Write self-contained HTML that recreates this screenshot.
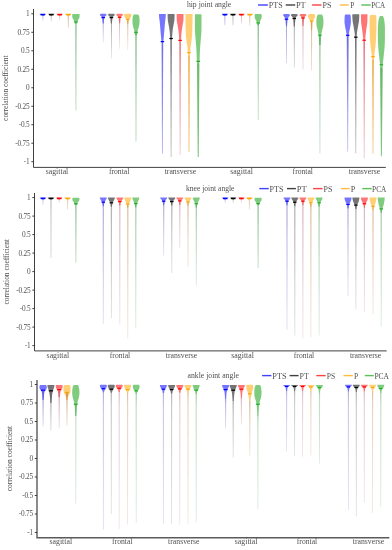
<!DOCTYPE html>
<html><head><meta charset="utf-8"><title>joint angle correlation</title>
<style>
html,body{margin:0;padding:0;background:#fff;}
body{width:392px;height:550px;overflow:hidden;}
svg{display:block;}
text{font-family:"Liberation Serif", "DejaVu Serif", serif;fill:#505050;}
</style></head><body>
<svg width="392" height="550" viewBox="0 0 392 550">
<defs><linearGradient id="g0" x1="0" y1="0" x2="0" y2="1"><stop offset="0" stop-color="#5e5ec0" stop-opacity="0.33"/><stop offset="1" stop-color="#5e5ec0" stop-opacity="0.22"/></linearGradient><linearGradient id="g1" x1="0" y1="0" x2="0" y2="1"><stop offset="0" stop-color="#636363" stop-opacity="0.33"/><stop offset="1" stop-color="#636363" stop-opacity="0.22"/></linearGradient><linearGradient id="g2" x1="0" y1="0" x2="0" y2="1"><stop offset="0" stop-color="#b8707a" stop-opacity="0.33"/><stop offset="1" stop-color="#b8707a" stop-opacity="0.22"/></linearGradient><linearGradient id="g3" x1="0" y1="0" x2="0" y2="1"><stop offset="0" stop-color="#b88040" stop-opacity="0.5"/><stop offset="1" stop-color="#b88040" stop-opacity="0.4"/></linearGradient><linearGradient id="g4" x1="0" y1="0" x2="0" y2="1"><stop offset="0" stop-color="#4a9a55" stop-opacity="0.45"/><stop offset="1" stop-color="#4a9a55" stop-opacity="0.25"/></linearGradient><linearGradient id="g5" x1="0" y1="0" x2="0" y2="1"><stop offset="0" stop-color="#5e5ec0" stop-opacity="0.65"/><stop offset="1" stop-color="#5e5ec0" stop-opacity="0.2"/></linearGradient><linearGradient id="g6" x1="0" y1="0" x2="0" y2="1"><stop offset="0" stop-color="#636363" stop-opacity="0.65"/><stop offset="1" stop-color="#636363" stop-opacity="0.2"/></linearGradient><linearGradient id="g7" x1="0" y1="0" x2="0" y2="1"><stop offset="0" stop-color="#b8707a" stop-opacity="0.65"/><stop offset="1" stop-color="#b8707a" stop-opacity="0.2"/></linearGradient><linearGradient id="g8" x1="0" y1="0" x2="0" y2="1"><stop offset="0" stop-color="#b88040" stop-opacity="0.65"/><stop offset="1" stop-color="#b88040" stop-opacity="0.2"/></linearGradient><linearGradient id="g9" x1="0" y1="0" x2="0" y2="1"><stop offset="0" stop-color="#4a9a55" stop-opacity="0.6"/><stop offset="1" stop-color="#4a9a55" stop-opacity="0.3"/></linearGradient><linearGradient id="g10" x1="0" y1="0" x2="0" y2="1"><stop offset="0" stop-color="#4848e0" stop-opacity="0.8"/><stop offset="1" stop-color="#4848e0" stop-opacity="0.45"/></linearGradient><linearGradient id="g11" x1="0" y1="0" x2="0" y2="1"><stop offset="0" stop-color="#5a5a5a" stop-opacity="0.8"/><stop offset="1" stop-color="#5a5a5a" stop-opacity="0.4"/></linearGradient><linearGradient id="g12" x1="0" y1="0" x2="0" y2="1"><stop offset="0" stop-color="#d85060" stop-opacity="0.75"/><stop offset="1" stop-color="#d85060" stop-opacity="0.35"/></linearGradient><linearGradient id="g13" x1="0" y1="0" x2="0" y2="1"><stop offset="0" stop-color="#eea030" stop-opacity="0.7"/><stop offset="1" stop-color="#eea030" stop-opacity="0.65"/></linearGradient><linearGradient id="g14" x1="0" y1="0" x2="0" y2="1"><stop offset="0" stop-color="#30a030" stop-opacity="0.7"/><stop offset="1" stop-color="#30a030" stop-opacity="0.65"/></linearGradient><linearGradient id="g15" x1="0" y1="0" x2="0" y2="1"><stop offset="0" stop-color="#5e5ec0" stop-opacity="0.55"/><stop offset="1" stop-color="#5e5ec0" stop-opacity="0.4"/></linearGradient><linearGradient id="g16" x1="0" y1="0" x2="0" y2="1"><stop offset="0" stop-color="#636363" stop-opacity="0.55"/><stop offset="1" stop-color="#636363" stop-opacity="0.4"/></linearGradient><linearGradient id="g17" x1="0" y1="0" x2="0" y2="1"><stop offset="0" stop-color="#b8707a" stop-opacity="0.5"/><stop offset="1" stop-color="#b8707a" stop-opacity="0.4"/></linearGradient><linearGradient id="g18" x1="0" y1="0" x2="0" y2="1"><stop offset="0" stop-color="#b88040" stop-opacity="0.55"/><stop offset="1" stop-color="#b88040" stop-opacity="0.4"/></linearGradient><linearGradient id="g19" x1="0" y1="0" x2="0" y2="1"><stop offset="0" stop-color="#4a9a55" stop-opacity="0.8"/><stop offset="1" stop-color="#4a9a55" stop-opacity="0.4"/></linearGradient><linearGradient id="g20" x1="0" y1="0" x2="0" y2="1"><stop offset="0" stop-color="#5e5ec0" stop-opacity="0.6"/><stop offset="1" stop-color="#5e5ec0" stop-opacity="0.3"/></linearGradient><linearGradient id="g21" x1="0" y1="0" x2="0" y2="1"><stop offset="0" stop-color="#636363" stop-opacity="0.6"/><stop offset="1" stop-color="#636363" stop-opacity="0.3"/></linearGradient><linearGradient id="g22" x1="0" y1="0" x2="0" y2="1"><stop offset="0" stop-color="#b8707a" stop-opacity="0.6"/><stop offset="1" stop-color="#b8707a" stop-opacity="0.3"/></linearGradient><linearGradient id="g23" x1="0" y1="0" x2="0" y2="1"><stop offset="0" stop-color="#b88040" stop-opacity="0.6"/><stop offset="1" stop-color="#b88040" stop-opacity="0.3"/></linearGradient><linearGradient id="g24" x1="0" y1="0" x2="0" y2="1"><stop offset="0" stop-color="#4a9a55" stop-opacity="0.5"/><stop offset="1" stop-color="#4a9a55" stop-opacity="0.25"/></linearGradient><linearGradient id="g25" x1="0" y1="0" x2="0" y2="1"><stop offset="0" stop-color="#4848e0" stop-opacity="0.8"/><stop offset="1" stop-color="#4848e0" stop-opacity="0.35"/></linearGradient><linearGradient id="g26" x1="0" y1="0" x2="0" y2="1"><stop offset="0" stop-color="#5a5a5a" stop-opacity="0.85"/><stop offset="1" stop-color="#5a5a5a" stop-opacity="0.4"/></linearGradient><linearGradient id="g27" x1="0" y1="0" x2="0" y2="1"><stop offset="0" stop-color="#d85060" stop-opacity="0.75"/><stop offset="1" stop-color="#d85060" stop-opacity="0.35"/></linearGradient><linearGradient id="g28" x1="0" y1="0" x2="0" y2="1"><stop offset="0" stop-color="#eea030" stop-opacity="0.75"/><stop offset="1" stop-color="#eea030" stop-opacity="0.55"/></linearGradient><linearGradient id="g29" x1="0" y1="0" x2="0" y2="1"><stop offset="0" stop-color="#30a030" stop-opacity="0.75"/><stop offset="1" stop-color="#30a030" stop-opacity="0.6"/></linearGradient><linearGradient id="g30" x1="0" y1="0" x2="0" y2="1"><stop offset="0" stop-color="#5e5ec0" stop-opacity="0.33"/><stop offset="1" stop-color="#5e5ec0" stop-opacity="0.22"/></linearGradient><linearGradient id="g31" x1="0" y1="0" x2="0" y2="1"><stop offset="0" stop-color="#636363" stop-opacity="0.35"/><stop offset="1" stop-color="#636363" stop-opacity="0.25"/></linearGradient><linearGradient id="g32" x1="0" y1="0" x2="0" y2="1"><stop offset="0" stop-color="#b8707a" stop-opacity="0.33"/><stop offset="1" stop-color="#b8707a" stop-opacity="0.22"/></linearGradient><linearGradient id="g33" x1="0" y1="0" x2="0" y2="1"><stop offset="0" stop-color="#b88040" stop-opacity="0.4"/><stop offset="1" stop-color="#b88040" stop-opacity="0.3"/></linearGradient><linearGradient id="g34" x1="0" y1="0" x2="0" y2="1"><stop offset="0" stop-color="#4a9a55" stop-opacity="0.6"/><stop offset="1" stop-color="#4a9a55" stop-opacity="0.35"/></linearGradient><linearGradient id="g35" x1="0" y1="0" x2="0" y2="1"><stop offset="0" stop-color="#5e5ec0" stop-opacity="0.5"/><stop offset="1" stop-color="#5e5ec0" stop-opacity="0.2"/></linearGradient><linearGradient id="g36" x1="0" y1="0" x2="0" y2="1"><stop offset="0" stop-color="#636363" stop-opacity="0.5"/><stop offset="1" stop-color="#636363" stop-opacity="0.2"/></linearGradient><linearGradient id="g37" x1="0" y1="0" x2="0" y2="1"><stop offset="0" stop-color="#b8707a" stop-opacity="0.5"/><stop offset="1" stop-color="#b8707a" stop-opacity="0.2"/></linearGradient><linearGradient id="g38" x1="0" y1="0" x2="0" y2="1"><stop offset="0" stop-color="#b88040" stop-opacity="0.5"/><stop offset="1" stop-color="#b88040" stop-opacity="0.2"/></linearGradient><linearGradient id="g39" x1="0" y1="0" x2="0" y2="1"><stop offset="0" stop-color="#4a9a55" stop-opacity="0.5"/><stop offset="1" stop-color="#4a9a55" stop-opacity="0.2"/></linearGradient><linearGradient id="g40" x1="0" y1="0" x2="0" y2="1"><stop offset="0" stop-color="#5e5ec0" stop-opacity="0.5"/><stop offset="1" stop-color="#5e5ec0" stop-opacity="0.2"/></linearGradient><linearGradient id="g41" x1="0" y1="0" x2="0" y2="1"><stop offset="0" stop-color="#636363" stop-opacity="0.5"/><stop offset="1" stop-color="#636363" stop-opacity="0.2"/></linearGradient><linearGradient id="g42" x1="0" y1="0" x2="0" y2="1"><stop offset="0" stop-color="#b8707a" stop-opacity="0.5"/><stop offset="1" stop-color="#b8707a" stop-opacity="0.2"/></linearGradient><linearGradient id="g43" x1="0" y1="0" x2="0" y2="1"><stop offset="0" stop-color="#b88040" stop-opacity="0.5"/><stop offset="1" stop-color="#b88040" stop-opacity="0.2"/></linearGradient><linearGradient id="g44" x1="0" y1="0" x2="0" y2="1"><stop offset="0" stop-color="#4a9a55" stop-opacity="0.5"/><stop offset="1" stop-color="#4a9a55" stop-opacity="0.2"/></linearGradient><linearGradient id="g45" x1="0" y1="0" x2="0" y2="1"><stop offset="0" stop-color="#5e5ec0" stop-opacity="0.33"/><stop offset="1" stop-color="#5e5ec0" stop-opacity="0.22"/></linearGradient><linearGradient id="g46" x1="0" y1="0" x2="0" y2="1"><stop offset="0" stop-color="#636363" stop-opacity="0.33"/><stop offset="1" stop-color="#636363" stop-opacity="0.22"/></linearGradient><linearGradient id="g47" x1="0" y1="0" x2="0" y2="1"><stop offset="0" stop-color="#b8707a" stop-opacity="0.33"/><stop offset="1" stop-color="#b8707a" stop-opacity="0.22"/></linearGradient><linearGradient id="g48" x1="0" y1="0" x2="0" y2="1"><stop offset="0" stop-color="#b88040" stop-opacity="0.4"/><stop offset="1" stop-color="#b88040" stop-opacity="0.3"/></linearGradient><linearGradient id="g49" x1="0" y1="0" x2="0" y2="1"><stop offset="0" stop-color="#4a9a55" stop-opacity="0.6"/><stop offset="1" stop-color="#4a9a55" stop-opacity="0.35"/></linearGradient><linearGradient id="g50" x1="0" y1="0" x2="0" y2="1"><stop offset="0" stop-color="#5e5ec0" stop-opacity="0.5"/><stop offset="1" stop-color="#5e5ec0" stop-opacity="0.2"/></linearGradient><linearGradient id="g51" x1="0" y1="0" x2="0" y2="1"><stop offset="0" stop-color="#636363" stop-opacity="0.5"/><stop offset="1" stop-color="#636363" stop-opacity="0.2"/></linearGradient><linearGradient id="g52" x1="0" y1="0" x2="0" y2="1"><stop offset="0" stop-color="#b8707a" stop-opacity="0.5"/><stop offset="1" stop-color="#b8707a" stop-opacity="0.2"/></linearGradient><linearGradient id="g53" x1="0" y1="0" x2="0" y2="1"><stop offset="0" stop-color="#b88040" stop-opacity="0.5"/><stop offset="1" stop-color="#b88040" stop-opacity="0.2"/></linearGradient><linearGradient id="g54" x1="0" y1="0" x2="0" y2="1"><stop offset="0" stop-color="#4a9a55" stop-opacity="0.5"/><stop offset="1" stop-color="#4a9a55" stop-opacity="0.2"/></linearGradient><linearGradient id="g55" x1="0" y1="0" x2="0" y2="1"><stop offset="0" stop-color="#5e5ec0" stop-opacity="0.5"/><stop offset="1" stop-color="#5e5ec0" stop-opacity="0.2"/></linearGradient><linearGradient id="g56" x1="0" y1="0" x2="0" y2="1"><stop offset="0" stop-color="#636363" stop-opacity="0.5"/><stop offset="1" stop-color="#636363" stop-opacity="0.2"/></linearGradient><linearGradient id="g57" x1="0" y1="0" x2="0" y2="1"><stop offset="0" stop-color="#b8707a" stop-opacity="0.5"/><stop offset="1" stop-color="#b8707a" stop-opacity="0.2"/></linearGradient><linearGradient id="g58" x1="0" y1="0" x2="0" y2="1"><stop offset="0" stop-color="#b88040" stop-opacity="0.5"/><stop offset="1" stop-color="#b88040" stop-opacity="0.2"/></linearGradient><linearGradient id="g59" x1="0" y1="0" x2="0" y2="1"><stop offset="0" stop-color="#4a9a55" stop-opacity="0.5"/><stop offset="1" stop-color="#4a9a55" stop-opacity="0.2"/></linearGradient><linearGradient id="g60" x1="0" y1="0" x2="0" y2="1"><stop offset="0" stop-color="#5e5ec0" stop-opacity="0.85"/><stop offset="0.25" stop-color="#5e5ec0" stop-opacity="0.5"/><stop offset="1" stop-color="#5e5ec0" stop-opacity="0.2"/></linearGradient><linearGradient id="g61" x1="0" y1="0" x2="0" y2="1"><stop offset="0" stop-color="#636363" stop-opacity="0.85"/><stop offset="0.25" stop-color="#636363" stop-opacity="0.5"/><stop offset="1" stop-color="#636363" stop-opacity="0.2"/></linearGradient><linearGradient id="g62" x1="0" y1="0" x2="0" y2="1"><stop offset="0" stop-color="#b8707a" stop-opacity="0.85"/><stop offset="0.25" stop-color="#b8707a" stop-opacity="0.5"/><stop offset="1" stop-color="#b8707a" stop-opacity="0.2"/></linearGradient><linearGradient id="g63" x1="0" y1="0" x2="0" y2="1"><stop offset="0" stop-color="#b88040" stop-opacity="0.85"/><stop offset="0.25" stop-color="#b88040" stop-opacity="0.5"/><stop offset="1" stop-color="#b88040" stop-opacity="0.2"/></linearGradient><linearGradient id="g64" x1="0" y1="0" x2="0" y2="1"><stop offset="0" stop-color="#4a9a55" stop-opacity="0.45"/><stop offset="0.12" stop-color="#4a9a55" stop-opacity="0.28"/><stop offset="1" stop-color="#4a9a55" stop-opacity="0.2"/></linearGradient><linearGradient id="g65" x1="0" y1="0" x2="0" y2="1"><stop offset="0" stop-color="#5e5ec0" stop-opacity="0.5"/><stop offset="0.1" stop-color="#5e5ec0" stop-opacity="0.35"/><stop offset="1" stop-color="#5e5ec0" stop-opacity="0.2"/></linearGradient><linearGradient id="g66" x1="0" y1="0" x2="0" y2="1"><stop offset="0" stop-color="#636363" stop-opacity="0.5"/><stop offset="0.1" stop-color="#636363" stop-opacity="0.35"/><stop offset="1" stop-color="#636363" stop-opacity="0.2"/></linearGradient><linearGradient id="g67" x1="0" y1="0" x2="0" y2="1"><stop offset="0" stop-color="#b8707a" stop-opacity="0.5"/><stop offset="0.1" stop-color="#b8707a" stop-opacity="0.35"/><stop offset="1" stop-color="#b8707a" stop-opacity="0.2"/></linearGradient><linearGradient id="g68" x1="0" y1="0" x2="0" y2="1"><stop offset="0" stop-color="#b88040" stop-opacity="0.5"/><stop offset="0.1" stop-color="#b88040" stop-opacity="0.35"/><stop offset="1" stop-color="#b88040" stop-opacity="0.2"/></linearGradient><linearGradient id="g69" x1="0" y1="0" x2="0" y2="1"><stop offset="0" stop-color="#4a9a55" stop-opacity="0.5"/><stop offset="0.1" stop-color="#4a9a55" stop-opacity="0.35"/><stop offset="1" stop-color="#4a9a55" stop-opacity="0.2"/></linearGradient><linearGradient id="g70" x1="0" y1="0" x2="0" y2="1"><stop offset="0" stop-color="#5e5ec0" stop-opacity="0.5"/><stop offset="0.1" stop-color="#5e5ec0" stop-opacity="0.35"/><stop offset="1" stop-color="#5e5ec0" stop-opacity="0.2"/></linearGradient><linearGradient id="g71" x1="0" y1="0" x2="0" y2="1"><stop offset="0" stop-color="#636363" stop-opacity="0.5"/><stop offset="0.1" stop-color="#636363" stop-opacity="0.35"/><stop offset="1" stop-color="#636363" stop-opacity="0.2"/></linearGradient><linearGradient id="g72" x1="0" y1="0" x2="0" y2="1"><stop offset="0" stop-color="#b8707a" stop-opacity="0.5"/><stop offset="0.1" stop-color="#b8707a" stop-opacity="0.35"/><stop offset="1" stop-color="#b8707a" stop-opacity="0.2"/></linearGradient><linearGradient id="g73" x1="0" y1="0" x2="0" y2="1"><stop offset="0" stop-color="#b88040" stop-opacity="0.5"/><stop offset="0.1" stop-color="#b88040" stop-opacity="0.35"/><stop offset="1" stop-color="#b88040" stop-opacity="0.2"/></linearGradient><linearGradient id="g74" x1="0" y1="0" x2="0" y2="1"><stop offset="0" stop-color="#4a9a55" stop-opacity="0.5"/><stop offset="0.1" stop-color="#4a9a55" stop-opacity="0.35"/><stop offset="1" stop-color="#4a9a55" stop-opacity="0.2"/></linearGradient><linearGradient id="g75" x1="0" y1="0" x2="0" y2="1"><stop offset="0" stop-color="#5e5ec0" stop-opacity="0.55"/><stop offset="0.2" stop-color="#5e5ec0" stop-opacity="0.4"/><stop offset="1" stop-color="#5e5ec0" stop-opacity="0.2"/></linearGradient><linearGradient id="g76" x1="0" y1="0" x2="0" y2="1"><stop offset="0" stop-color="#636363" stop-opacity="0.55"/><stop offset="0.2" stop-color="#636363" stop-opacity="0.4"/><stop offset="1" stop-color="#636363" stop-opacity="0.2"/></linearGradient><linearGradient id="g77" x1="0" y1="0" x2="0" y2="1"><stop offset="0" stop-color="#b8707a" stop-opacity="0.55"/><stop offset="0.2" stop-color="#b8707a" stop-opacity="0.4"/><stop offset="1" stop-color="#b8707a" stop-opacity="0.2"/></linearGradient><linearGradient id="g78" x1="0" y1="0" x2="0" y2="1"><stop offset="0" stop-color="#b88040" stop-opacity="0.55"/><stop offset="0.2" stop-color="#b88040" stop-opacity="0.4"/><stop offset="1" stop-color="#b88040" stop-opacity="0.2"/></linearGradient><linearGradient id="g79" x1="0" y1="0" x2="0" y2="1"><stop offset="0" stop-color="#4a9a55" stop-opacity="0.45"/><stop offset="0.12" stop-color="#4a9a55" stop-opacity="0.3"/><stop offset="1" stop-color="#4a9a55" stop-opacity="0.2"/></linearGradient><linearGradient id="g80" x1="0" y1="0" x2="0" y2="1"><stop offset="0" stop-color="#5e5ec0" stop-opacity="0.5"/><stop offset="0.1" stop-color="#5e5ec0" stop-opacity="0.35"/><stop offset="1" stop-color="#5e5ec0" stop-opacity="0.2"/></linearGradient><linearGradient id="g81" x1="0" y1="0" x2="0" y2="1"><stop offset="0" stop-color="#636363" stop-opacity="0.5"/><stop offset="0.1" stop-color="#636363" stop-opacity="0.35"/><stop offset="1" stop-color="#636363" stop-opacity="0.2"/></linearGradient><linearGradient id="g82" x1="0" y1="0" x2="0" y2="1"><stop offset="0" stop-color="#b8707a" stop-opacity="0.5"/><stop offset="0.1" stop-color="#b8707a" stop-opacity="0.35"/><stop offset="1" stop-color="#b8707a" stop-opacity="0.2"/></linearGradient><linearGradient id="g83" x1="0" y1="0" x2="0" y2="1"><stop offset="0" stop-color="#b88040" stop-opacity="0.5"/><stop offset="0.1" stop-color="#b88040" stop-opacity="0.35"/><stop offset="1" stop-color="#b88040" stop-opacity="0.2"/></linearGradient><linearGradient id="g84" x1="0" y1="0" x2="0" y2="1"><stop offset="0" stop-color="#4a9a55" stop-opacity="0.5"/><stop offset="0.1" stop-color="#4a9a55" stop-opacity="0.35"/><stop offset="1" stop-color="#4a9a55" stop-opacity="0.2"/></linearGradient><linearGradient id="g85" x1="0" y1="0" x2="0" y2="1"><stop offset="0" stop-color="#5e5ec0" stop-opacity="0.5"/><stop offset="0.1" stop-color="#5e5ec0" stop-opacity="0.35"/><stop offset="1" stop-color="#5e5ec0" stop-opacity="0.2"/></linearGradient><linearGradient id="g86" x1="0" y1="0" x2="0" y2="1"><stop offset="0" stop-color="#636363" stop-opacity="0.5"/><stop offset="0.1" stop-color="#636363" stop-opacity="0.35"/><stop offset="1" stop-color="#636363" stop-opacity="0.2"/></linearGradient><linearGradient id="g87" x1="0" y1="0" x2="0" y2="1"><stop offset="0" stop-color="#b8707a" stop-opacity="0.5"/><stop offset="0.1" stop-color="#b8707a" stop-opacity="0.35"/><stop offset="1" stop-color="#b8707a" stop-opacity="0.2"/></linearGradient><linearGradient id="g88" x1="0" y1="0" x2="0" y2="1"><stop offset="0" stop-color="#b88040" stop-opacity="0.5"/><stop offset="0.1" stop-color="#b88040" stop-opacity="0.35"/><stop offset="1" stop-color="#b88040" stop-opacity="0.2"/></linearGradient><linearGradient id="g89" x1="0" y1="0" x2="0" y2="1"><stop offset="0" stop-color="#4a9a55" stop-opacity="0.5"/><stop offset="0.1" stop-color="#4a9a55" stop-opacity="0.35"/><stop offset="1" stop-color="#4a9a55" stop-opacity="0.2"/></linearGradient></defs>
<rect width="392" height="550" fill="#fff"/>
<path d="M46.10,13.80 45.60,14.40 44.10,15.00 43.60,15.70 L42.00,15.70 41.50,15.00 39.99,14.40 39.50,13.80 Z" fill="#0000ff" fill-opacity="0.54"/>
<path d="M42.10,15.20 L43.50,15.20 L43.25,20.70 L42.34,20.70 Z" fill="url(#g0)"/>
<line x1="40.50" y1="14.65" x2="45.10" y2="14.65" stroke="#0000ff" stroke-width="1.5"/>
<path d="M54.60,13.80 54.10,14.40 52.60,15.00 52.10,15.70 L50.50,15.70 50.00,15.00 48.49,14.40 48.00,13.80 Z" fill="#000000" fill-opacity="0.54"/>
<path d="M50.60,15.20 L52.00,15.20 L51.75,21.40 L50.84,21.40 Z" fill="url(#g1)"/>
<line x1="49.00" y1="14.65" x2="53.60" y2="14.65" stroke="#000000" stroke-width="1.5"/>
<path d="M63.00,13.80 62.51,14.40 61.00,15.00 60.50,15.70 L58.90,15.70 58.40,15.00 56.90,14.40 56.40,13.80 Z" fill="#ff0000" fill-opacity="0.54"/>
<path d="M59.00,15.20 L60.40,15.20 L60.16,20.30 L59.25,20.30 Z" fill="url(#g2)"/>
<line x1="57.40" y1="14.65" x2="62.00" y2="14.65" stroke="#ff0000" stroke-width="1.5"/>
<path d="M71.80,13.80 71.27,14.40 69.60,15.00 69.10,15.70 L67.50,15.70 67.00,15.00 65.33,14.40 64.80,13.80 Z" fill="#ffa500" fill-opacity="0.54"/>
<path d="M67.70,15.20 L68.90,15.20 L68.69,27.50 L67.91,27.50 Z" fill="url(#g3)"/>
<line x1="66.00" y1="14.65" x2="70.60" y2="14.65" stroke="#ffa500" stroke-width="1.5"/>
<path d="M79.20,13.90 79.59,14.40 79.65,14.90 79.63,15.40 79.61,15.90 79.57,16.40 79.53,16.90 79.46,17.40 79.27,17.90 78.98,18.40 78.65,18.90 78.35,19.40 78.10,19.90 77.85,20.40 77.64,20.90 77.46,21.40 77.32,21.90 77.22,22.40 77.13,22.90 77.06,23.40 77.05,23.50 L74.75,23.50 74.74,23.40 74.67,22.90 74.58,22.40 74.48,21.90 74.34,21.40 74.16,20.90 73.95,20.40 73.70,19.90 73.45,19.40 73.15,18.90 72.82,18.40 72.53,17.90 72.34,17.40 72.27,16.90 72.23,16.40 72.19,15.90 72.17,15.40 72.15,14.90 72.21,14.40 72.60,13.90 Z" fill="#12a012" fill-opacity="0.54"/>
<path d="M74.90,22.60 L76.90,22.60 L76.55,110.50 L75.25,110.50 Z" fill="url(#g4)"/>
<line x1="74.15" y1="22.00" x2="77.65" y2="22.00" stroke="#1fae1f" stroke-width="1.2"/>
<path d="M105.65,13.70 106.36,14.20 106.56,14.70 106.52,15.20 105.90,15.70 105.29,16.20 104.91,16.70 104.61,17.20 104.42,17.70 104.31,18.20 104.22,18.70 104.15,19.20 104.08,19.70 104.03,20.20 103.97,20.70 103.92,21.20 103.87,21.70 103.83,22.20 103.79,22.70 103.77,23.20 103.75,23.60 L102.65,23.60 102.63,23.20 102.61,22.70 102.57,22.20 102.53,21.70 102.48,21.20 102.43,20.70 102.37,20.20 102.32,19.70 102.25,19.20 102.18,18.70 102.09,18.20 101.98,17.70 101.79,17.20 101.49,16.70 101.11,16.20 100.50,15.70 99.88,15.20 99.84,14.70 100.04,14.20 100.75,13.70 Z" fill="#0000ff" fill-opacity="0.54"/>
<path d="M102.70,18.20 L103.70,18.20 L103.53,42.40 L102.88,42.40 Z" fill="url(#g5)"/>
<line x1="101.45" y1="17.60" x2="104.95" y2="17.60" stroke="#0000ff" stroke-width="1.2"/>
<path d="M113.85,13.70 114.56,14.20 114.76,14.70 114.72,15.20 114.10,15.70 113.49,16.20 113.11,16.70 112.81,17.20 112.62,17.70 112.51,18.20 112.42,18.70 112.35,19.20 112.28,19.70 112.23,20.20 112.17,20.70 112.12,21.20 112.07,21.70 112.03,22.20 111.99,22.70 111.97,23.20 111.95,23.60 L110.85,23.60 110.83,23.20 110.81,22.70 110.77,22.20 110.73,21.70 110.68,21.20 110.63,20.70 110.57,20.20 110.52,19.70 110.45,19.20 110.38,18.70 110.29,18.20 110.18,17.70 109.99,17.20 109.69,16.70 109.31,16.20 108.70,15.70 108.08,15.20 108.04,14.70 108.24,14.20 108.95,13.70 Z" fill="#000000" fill-opacity="0.54"/>
<path d="M110.90,18.20 L111.90,18.20 L111.73,58.30 L111.08,58.30 Z" fill="url(#g6)"/>
<line x1="109.65" y1="17.60" x2="113.15" y2="17.60" stroke="#000000" stroke-width="1.2"/>
<path d="M122.05,13.70 122.76,14.20 122.96,14.70 122.90,15.20 122.16,15.70 121.56,16.20 121.16,16.70 120.88,17.20 120.75,17.70 120.65,18.20 120.57,18.70 120.51,19.20 120.45,19.70 120.39,20.20 120.34,20.70 120.29,21.20 120.25,21.70 120.21,22.20 120.18,22.70 120.15,23.20 120.15,23.30 L119.05,23.30 119.05,23.20 119.02,22.70 118.99,22.20 118.95,21.70 118.91,21.20 118.86,20.70 118.81,20.20 118.75,19.70 118.69,19.20 118.63,18.70 118.55,18.20 118.45,17.70 118.32,17.20 118.04,16.70 117.64,16.20 117.04,15.70 116.30,15.20 116.24,14.70 116.44,14.20 117.15,13.70 Z" fill="#ff0000" fill-opacity="0.54"/>
<path d="M119.10,17.90 L120.10,17.90 L119.92,48.70 L119.27,48.70 Z" fill="url(#g7)"/>
<line x1="117.85" y1="17.30" x2="121.35" y2="17.30" stroke="#ff0000" stroke-width="1.2"/>
<path d="M130.80,13.70 131.26,14.20 131.41,14.70 131.49,15.20 131.48,15.70 131.32,16.20 131.06,16.70 130.76,17.20 130.44,17.70 130.06,18.20 129.67,18.70 129.30,19.20 129.10,19.70 128.98,20.20 128.88,20.70 128.80,21.20 128.72,21.70 128.64,22.20 128.56,22.70 128.49,23.20 128.43,23.70 128.40,24.00 L127.20,24.00 127.17,23.70 127.11,23.20 127.04,22.70 126.96,22.20 126.88,21.70 126.80,21.20 126.72,20.70 126.62,20.20 126.50,19.70 126.30,19.20 125.93,18.70 125.54,18.20 125.16,17.70 124.84,17.20 124.54,16.70 124.28,16.20 124.12,15.70 124.11,15.20 124.19,14.70 124.34,14.20 124.80,13.70 Z" fill="#ffa500" fill-opacity="0.54"/>
<path d="M127.30,19.90 L128.30,19.90 L128.12,50.00 L127.47,50.00 Z" fill="url(#g8)"/>
<line x1="126.05" y1="19.30" x2="129.55" y2="19.30" stroke="#ffa500" stroke-width="1.2"/>
<path d="M138.20,14.40 138.57,14.90 138.86,15.40 139.03,15.90 139.18,16.40 139.30,16.90 139.39,17.40 139.44,17.90 139.47,18.40 139.49,18.90 139.51,19.40 139.53,19.90 139.54,20.40 139.55,20.90 139.55,21.40 139.54,21.90 139.52,22.40 139.48,22.90 139.42,23.40 139.36,23.90 139.29,24.40 139.21,24.90 139.13,25.40 139.01,25.90 138.88,26.40 138.73,26.90 138.57,27.40 138.43,27.90 138.29,28.40 138.13,28.90 137.98,29.40 137.84,29.90 137.72,30.40 137.63,30.90 137.55,31.40 137.48,31.90 137.41,32.40 137.35,32.90 137.28,33.40 137.22,33.90 137.16,34.40 137.11,34.90 137.10,35.00 L134.90,35.00 134.89,34.90 134.84,34.40 134.78,33.90 134.72,33.40 134.65,32.90 134.59,32.40 134.52,31.90 134.45,31.40 134.37,30.90 134.28,30.40 134.16,29.90 134.02,29.40 133.87,28.90 133.71,28.40 133.57,27.90 133.43,27.40 133.27,26.90 133.12,26.40 132.99,25.90 132.87,25.40 132.79,24.90 132.71,24.40 132.64,23.90 132.58,23.40 132.52,22.90 132.48,22.40 132.46,21.90 132.45,21.40 132.45,20.90 132.46,20.40 132.47,19.90 132.49,19.40 132.51,18.90 132.53,18.40 132.56,17.90 132.61,17.40 132.70,16.90 132.82,16.40 132.97,15.90 133.14,15.40 133.43,14.90 133.80,14.40 Z" fill="#12a012" fill-opacity="0.54"/>
<path d="M135.20,32.90 L136.80,32.90 L136.52,141.60 L135.48,141.60 Z" fill="url(#g9)"/>
<line x1="134.25" y1="32.30" x2="137.75" y2="32.30" stroke="#1fae1f" stroke-width="1.2"/>
<path d="M165.70,13.90 165.76,14.40 165.80,14.90 165.79,15.40 165.78,15.90 165.74,16.40 165.70,16.90 165.65,17.40 165.59,17.90 165.52,18.40 165.45,18.90 165.38,19.40 165.31,19.90 165.24,20.40 165.17,20.90 165.11,21.40 165.06,21.90 165.01,22.40 164.97,22.90 164.92,23.40 164.88,23.90 164.83,24.40 164.79,24.90 164.75,25.40 164.70,25.90 164.66,26.40 164.62,26.90 164.58,27.40 164.54,27.90 164.50,28.40 164.46,28.90 164.42,29.40 164.38,29.90 164.34,30.40 164.29,30.90 164.25,31.40 164.21,31.90 164.17,32.40 164.12,32.90 164.08,33.40 164.04,33.90 163.99,34.40 163.95,34.90 163.90,35.40 163.86,35.90 163.82,36.40 163.77,36.90 163.73,37.40 163.68,37.90 163.64,38.40 163.59,38.90 163.55,39.40 163.51,39.90 163.46,40.40 163.42,40.90 163.37,41.40 163.32,41.90 163.27,42.40 163.21,42.90 163.20,43.00 L161.60,43.00 161.59,42.90 161.53,42.40 161.48,41.90 161.43,41.40 161.38,40.90 161.34,40.40 161.29,39.90 161.25,39.40 161.21,38.90 161.16,38.40 161.12,37.90 161.07,37.40 161.03,36.90 160.98,36.40 160.94,35.90 160.90,35.40 160.85,34.90 160.81,34.40 160.76,33.90 160.72,33.40 160.68,32.90 160.63,32.40 160.59,31.90 160.55,31.40 160.51,30.90 160.46,30.40 160.42,29.90 160.38,29.40 160.34,28.90 160.30,28.40 160.26,27.90 160.22,27.40 160.18,26.90 160.14,26.40 160.10,25.90 160.05,25.40 160.01,24.90 159.97,24.40 159.92,23.90 159.88,23.40 159.83,22.90 159.79,22.40 159.74,21.90 159.69,21.40 159.63,20.90 159.56,20.40 159.49,19.90 159.42,19.40 159.35,18.90 159.28,18.40 159.21,17.90 159.15,17.40 159.10,16.90 159.06,16.40 159.02,15.90 159.01,15.40 159.00,14.90 159.04,14.40 159.10,13.90 Z" fill="#0000ff" fill-opacity="0.54"/>
<path d="M161.60,42.70 L163.20,42.70 L162.80,153.60 L162.00,153.60 Z" fill="url(#g10)"/>
<line x1="160.65" y1="41.60" x2="164.15" y2="41.60" stroke="#0000ff" stroke-width="1.2"/>
<path d="M174.50,13.90 174.59,14.40 174.60,14.90 174.59,15.40 174.58,15.90 174.57,16.40 174.55,16.90 174.53,17.40 174.51,17.90 174.48,18.40 174.46,18.90 174.43,19.40 174.39,19.90 174.35,20.40 174.28,20.90 174.20,21.40 174.11,21.90 174.01,22.40 173.91,22.90 173.81,23.40 173.72,23.90 173.63,24.40 173.53,24.90 173.44,25.40 173.34,25.90 173.24,26.40 173.15,26.90 173.06,27.40 172.97,27.90 172.90,28.40 172.83,28.90 172.77,29.40 172.71,29.90 172.65,30.40 172.59,30.90 172.54,31.40 172.48,31.90 172.43,32.40 172.39,32.90 172.34,33.40 172.30,33.90 172.26,34.40 172.22,34.90 172.19,35.40 172.15,35.90 172.12,36.40 172.10,36.90 172.07,37.40 172.04,37.90 172.01,38.40 171.97,38.90 171.94,39.40 171.91,39.90 171.90,40.00 L170.30,40.00 170.29,39.90 170.26,39.40 170.23,38.90 170.19,38.40 170.16,37.90 170.13,37.40 170.10,36.90 170.08,36.40 170.05,35.90 170.01,35.40 169.98,34.90 169.94,34.40 169.90,33.90 169.86,33.40 169.81,32.90 169.77,32.40 169.72,31.90 169.66,31.40 169.61,30.90 169.55,30.40 169.49,29.90 169.43,29.40 169.37,28.90 169.30,28.40 169.23,27.90 169.14,27.40 169.05,26.90 168.96,26.40 168.86,25.90 168.76,25.40 168.67,24.90 168.57,24.40 168.48,23.90 168.39,23.40 168.29,22.90 168.19,22.40 168.09,21.90 168.00,21.40 167.92,20.90 167.85,20.40 167.81,19.90 167.77,19.40 167.74,18.90 167.72,18.40 167.69,17.90 167.67,17.40 167.65,16.90 167.63,16.40 167.62,15.90 167.61,15.40 167.60,14.90 167.61,14.40 167.70,13.90 Z" fill="#000000" fill-opacity="0.54"/>
<path d="M170.30,39.70 L171.90,39.70 L171.50,157.00 L170.70,157.00 Z" fill="url(#g11)"/>
<line x1="169.35" y1="38.50" x2="172.85" y2="38.50" stroke="#000000" stroke-width="1.2"/>
<path d="M183.40,13.90 183.53,14.40 183.55,14.90 183.55,15.40 183.54,15.90 183.54,16.40 183.53,16.90 183.52,17.40 183.51,17.90 183.49,18.40 183.48,18.90 183.46,19.40 183.45,19.90 183.41,20.40 183.35,20.90 183.28,21.40 183.19,21.90 183.10,22.40 183.00,22.90 182.90,23.40 182.82,23.90 182.73,24.40 182.65,24.90 182.56,25.40 182.47,25.90 182.38,26.40 182.29,26.90 182.20,27.40 182.12,27.90 182.05,28.40 181.98,28.90 181.91,29.40 181.85,29.90 181.78,30.40 181.72,30.90 181.66,31.40 181.60,31.90 181.54,32.40 181.49,32.90 181.44,33.40 181.39,33.90 181.35,34.40 181.31,34.90 181.27,35.40 181.24,35.90 181.21,36.40 181.18,36.90 181.16,37.40 181.13,37.90 181.11,38.40 181.08,38.90 181.06,39.40 181.03,39.90 181.00,40.40 180.97,40.90 180.94,41.40 180.91,41.90 180.90,42.00 L179.30,42.00 179.29,41.90 179.26,41.40 179.23,40.90 179.20,40.40 179.17,39.90 179.14,39.40 179.12,38.90 179.09,38.40 179.07,37.90 179.04,37.40 179.02,36.90 178.99,36.40 178.96,35.90 178.93,35.40 178.89,34.90 178.85,34.40 178.81,33.90 178.76,33.40 178.71,32.90 178.66,32.40 178.60,31.90 178.54,31.40 178.48,30.90 178.42,30.40 178.35,29.90 178.29,29.40 178.22,28.90 178.15,28.40 178.08,27.90 178.00,27.40 177.91,26.90 177.82,26.40 177.73,25.90 177.64,25.40 177.55,24.90 177.47,24.40 177.38,23.90 177.30,23.40 177.20,22.90 177.10,22.40 177.01,21.90 176.92,21.40 176.85,20.90 176.79,20.40 176.75,19.90 176.74,19.40 176.72,18.90 176.71,18.40 176.69,17.90 176.68,17.40 176.67,16.90 176.66,16.40 176.66,15.90 176.65,15.40 176.65,14.90 176.67,14.40 176.80,13.90 Z" fill="#ff0000" fill-opacity="0.54"/>
<path d="M179.30,41.70 L180.90,41.70 L180.50,155.00 L179.70,155.00 Z" fill="url(#g12)"/>
<line x1="178.35" y1="40.40" x2="181.85" y2="40.40" stroke="#ff0000" stroke-width="1.2"/>
<path d="M192.40,13.90 192.53,14.40 192.55,14.90 192.55,15.40 192.55,15.90 192.54,16.40 192.54,16.90 192.54,17.40 192.53,17.90 192.53,18.40 192.52,18.90 192.52,19.40 192.51,19.90 192.50,20.40 192.49,20.90 192.49,21.40 192.48,21.90 192.47,22.40 192.46,22.90 192.45,23.40 192.44,23.90 192.43,24.40 192.42,24.90 192.41,25.40 192.40,25.90 192.38,26.40 192.37,26.90 192.36,27.40 192.35,27.90 192.34,28.40 192.33,28.90 192.31,29.40 192.30,29.90 192.29,30.40 192.28,30.90 192.26,31.40 192.25,31.90 192.23,32.40 192.22,32.90 192.20,33.40 192.18,33.90 192.15,34.40 192.13,34.90 192.09,35.40 192.05,35.90 192.00,36.40 191.95,36.90 191.90,37.40 191.84,37.90 191.77,38.40 191.71,38.90 191.65,39.40 191.59,39.90 191.52,40.40 191.46,40.90 191.40,41.40 191.33,41.90 191.26,42.40 191.19,42.90 191.11,43.40 191.04,43.90 190.96,44.40 190.89,44.90 190.82,45.40 190.75,45.90 190.68,46.40 190.62,46.90 190.56,47.40 190.51,47.90 190.46,48.40 190.42,48.90 190.38,49.40 190.34,49.90 190.31,50.40 190.27,50.90 190.24,51.40 190.20,51.90 190.16,52.40 190.13,52.90 190.09,53.40 190.05,53.90 190.02,54.40 189.98,54.90 189.94,55.40 189.91,55.90 189.90,56.00 L188.10,56.00 188.09,55.90 188.06,55.40 188.02,54.90 187.98,54.40 187.95,53.90 187.91,53.40 187.87,52.90 187.84,52.40 187.80,51.90 187.76,51.40 187.73,50.90 187.69,50.40 187.66,49.90 187.62,49.40 187.58,48.90 187.54,48.40 187.49,47.90 187.44,47.40 187.38,46.90 187.32,46.40 187.25,45.90 187.18,45.40 187.11,44.90 187.04,44.40 186.96,43.90 186.89,43.40 186.81,42.90 186.74,42.40 186.67,41.90 186.60,41.40 186.54,40.90 186.48,40.40 186.41,39.90 186.35,39.40 186.29,38.90 186.23,38.40 186.16,37.90 186.10,37.40 186.05,36.90 186.00,36.40 185.95,35.90 185.91,35.40 185.87,34.90 185.85,34.40 185.82,33.90 185.80,33.40 185.78,32.90 185.77,32.40 185.75,31.90 185.74,31.40 185.72,30.90 185.71,30.40 185.70,29.90 185.69,29.40 185.67,28.90 185.66,28.40 185.65,27.90 185.64,27.40 185.63,26.90 185.62,26.40 185.60,25.90 185.59,25.40 185.58,24.90 185.57,24.40 185.56,23.90 185.55,23.40 185.54,22.90 185.53,22.40 185.52,21.90 185.51,21.40 185.51,20.90 185.50,20.40 185.49,19.90 185.48,19.40 185.48,18.90 185.47,18.40 185.47,17.90 185.46,17.40 185.46,16.90 185.46,16.40 185.45,15.90 185.45,15.40 185.45,14.90 185.47,14.40 185.60,13.90 Z" fill="#ffa500" fill-opacity="0.54"/>
<path d="M188.00,55.70 L190.00,55.70 L189.45,152.00 L188.55,152.00 Z" fill="url(#g13)"/>
<line x1="187.25" y1="52.60" x2="190.75" y2="52.60" stroke="#ffa500" stroke-width="1.2"/>
<path d="M201.30,14.30 201.43,14.80 201.50,15.30 201.50,15.80 201.50,16.30 201.50,16.80 201.50,17.30 201.50,17.80 201.50,18.30 201.50,18.80 201.50,19.30 201.50,19.80 201.50,20.30 201.50,20.80 201.50,21.30 201.50,21.80 201.50,22.30 201.50,22.80 201.50,23.30 201.50,23.80 201.50,24.30 201.50,24.80 201.50,25.30 201.50,25.80 201.50,26.30 201.50,26.80 201.50,27.30 201.50,27.80 201.50,28.30 201.50,28.80 201.49,29.30 201.48,29.80 201.47,30.30 201.45,30.80 201.42,31.30 201.40,31.80 201.37,32.30 201.33,32.80 201.30,33.30 201.26,33.80 201.22,34.30 201.18,34.80 201.14,35.30 201.10,35.80 201.06,36.30 201.01,36.80 200.97,37.30 200.92,37.80 200.88,38.30 200.84,38.80 200.80,39.30 200.76,39.80 200.72,40.30 200.69,40.80 200.65,41.30 200.61,41.80 200.57,42.30 200.53,42.80 200.49,43.30 200.45,43.80 200.41,44.30 200.36,44.80 200.32,45.30 200.28,45.80 200.24,46.30 200.20,46.80 200.16,47.30 200.12,47.80 200.08,48.30 200.05,48.80 200.01,49.30 199.98,49.80 199.96,50.30 199.93,50.80 199.91,51.30 199.88,51.80 199.86,52.30 199.84,52.80 199.83,53.30 199.81,53.80 199.79,54.30 199.78,54.80 199.76,55.30 199.75,55.80 199.73,56.30 199.71,56.80 199.70,57.30 199.68,57.80 199.66,58.30 199.64,58.80 199.62,59.30 199.59,59.80 199.57,60.30 199.54,60.80 199.51,61.30 199.47,61.80 199.42,62.30 199.36,62.80 199.29,63.30 199.23,63.80 199.20,64.00 L197.20,64.00 197.17,63.80 197.11,63.30 197.04,62.80 196.98,62.30 196.93,61.80 196.89,61.30 196.86,60.80 196.83,60.30 196.81,59.80 196.78,59.30 196.76,58.80 196.74,58.30 196.72,57.80 196.70,57.30 196.69,56.80 196.67,56.30 196.65,55.80 196.64,55.30 196.62,54.80 196.61,54.30 196.59,53.80 196.57,53.30 196.56,52.80 196.54,52.30 196.52,51.80 196.49,51.30 196.47,50.80 196.44,50.30 196.42,49.80 196.39,49.30 196.35,48.80 196.32,48.30 196.28,47.80 196.24,47.30 196.20,46.80 196.16,46.30 196.12,45.80 196.08,45.30 196.04,44.80 195.99,44.30 195.95,43.80 195.91,43.30 195.87,42.80 195.83,42.30 195.79,41.80 195.75,41.30 195.71,40.80 195.68,40.30 195.64,39.80 195.60,39.30 195.56,38.80 195.52,38.30 195.48,37.80 195.43,37.30 195.39,36.80 195.34,36.30 195.30,35.80 195.26,35.30 195.22,34.80 195.18,34.30 195.14,33.80 195.10,33.30 195.07,32.80 195.03,32.30 195.00,31.80 194.98,31.30 194.95,30.80 194.93,30.30 194.92,29.80 194.91,29.30 194.90,28.80 194.90,28.30 194.90,27.80 194.90,27.30 194.90,26.80 194.90,26.30 194.90,25.80 194.90,25.30 194.90,24.80 194.90,24.30 194.90,23.80 194.90,23.30 194.90,22.80 194.90,22.30 194.90,21.80 194.90,21.30 194.90,20.80 194.90,20.30 194.90,19.80 194.90,19.30 194.90,18.80 194.90,18.30 194.90,17.80 194.90,17.30 194.90,16.80 194.90,16.30 194.90,15.80 194.90,15.30 194.97,14.80 195.10,14.30 Z" fill="#12a012" fill-opacity="0.54"/>
<path d="M197.00,63.70 L199.40,63.70 L198.70,157.00 L197.70,157.00 Z" fill="url(#g14)"/>
<line x1="196.45" y1="61.40" x2="199.95" y2="61.40" stroke="#1fae1f" stroke-width="1.2"/>
<path d="M228.20,13.80 227.71,14.40 226.20,15.00 225.70,15.70 L224.10,15.70 223.60,15.00 222.09,14.40 221.60,13.80 Z" fill="#0000ff" fill-opacity="0.54"/>
<path d="M224.40,15.20 L225.40,15.20 L225.22,25.20 L224.58,25.20 Z" fill="url(#g15)"/>
<line x1="222.60" y1="14.65" x2="227.20" y2="14.65" stroke="#0000ff" stroke-width="1.5"/>
<path d="M236.30,13.80 235.81,14.40 234.30,15.00 233.80,15.70 L232.20,15.70 231.70,15.00 230.19,14.40 229.70,13.80 Z" fill="#000000" fill-opacity="0.54"/>
<path d="M232.50,15.20 L233.50,15.20 L233.32,25.20 L232.68,25.20 Z" fill="url(#g16)"/>
<line x1="230.70" y1="14.65" x2="235.30" y2="14.65" stroke="#000000" stroke-width="1.5"/>
<path d="M244.70,13.80 244.21,14.40 242.70,15.00 242.20,15.70 L240.60,15.70 240.10,15.00 238.59,14.40 238.10,13.80 Z" fill="#ff0000" fill-opacity="0.54"/>
<path d="M240.90,15.20 L241.90,15.20 L241.72,23.30 L241.08,23.30 Z" fill="url(#g17)"/>
<line x1="239.10" y1="14.65" x2="243.70" y2="14.65" stroke="#ff0000" stroke-width="1.5"/>
<path d="M253.30,13.80 252.78,14.40 251.10,15.00 250.60,15.70 L249.00,15.70 248.50,15.00 246.83,14.40 246.30,13.80 Z" fill="#ffa500" fill-opacity="0.54"/>
<path d="M249.30,15.20 L250.30,15.20 L250.12,25.60 L249.48,25.60 Z" fill="url(#g18)"/>
<line x1="247.50" y1="14.65" x2="252.10" y2="14.65" stroke="#ffa500" stroke-width="1.5"/>
<path d="M261.10,14.00 261.58,14.50 261.70,15.00 261.70,15.50 261.69,16.00 261.68,16.50 261.67,17.00 261.65,17.50 261.57,18.00 261.40,18.50 261.16,19.00 260.90,19.50 260.63,20.00 260.40,20.50 260.19,21.00 259.98,21.50 259.80,22.00 259.66,22.50 259.55,23.00 259.43,23.50 259.32,24.00 259.21,24.50 259.10,25.00 L257.30,25.00 257.19,24.50 257.08,24.00 256.97,23.50 256.85,23.00 256.74,22.50 256.60,22.00 256.42,21.50 256.21,21.00 256.00,20.50 255.77,20.00 255.50,19.50 255.24,19.00 255.00,18.50 254.83,18.00 254.75,17.50 254.73,17.00 254.72,16.50 254.71,16.00 254.70,15.50 254.70,15.00 254.82,14.50 255.30,14.00 Z" fill="#12a012" fill-opacity="0.54"/>
<path d="M257.65,23.50 L258.75,23.50 L258.56,120.00 L257.84,120.00 Z" fill="url(#g19)"/>
<line x1="256.45" y1="22.90" x2="259.95" y2="22.90" stroke="#1fae1f" stroke-width="1.2"/>
<path d="M288.95,14.10 289.66,14.60 289.86,15.10 289.86,15.60 289.52,16.10 289.02,16.60 288.62,17.10 288.36,17.60 288.12,18.10 287.92,18.60 287.77,19.10 287.67,19.60 287.58,20.10 287.51,20.60 287.45,21.10 287.39,21.60 287.34,22.10 287.29,22.60 287.25,23.10 287.20,23.60 287.16,24.10 287.13,24.60 287.10,25.10 287.07,25.60 287.05,26.10 287.05,26.20 L285.95,26.20 285.95,26.10 285.93,25.60 285.90,25.10 285.87,24.60 285.84,24.10 285.80,23.60 285.75,23.10 285.71,22.60 285.66,22.10 285.61,21.60 285.55,21.10 285.49,20.60 285.42,20.10 285.33,19.60 285.23,19.10 285.08,18.60 284.88,18.10 284.64,17.60 284.38,17.10 283.98,16.60 283.48,16.10 283.14,15.60 283.14,15.10 283.34,14.60 284.05,14.10 Z" fill="#0000ff" fill-opacity="0.54"/>
<path d="M285.95,19.80 L287.05,19.80 L286.86,63.20 L286.14,63.20 Z" fill="url(#g20)"/>
<line x1="284.75" y1="19.20" x2="288.25" y2="19.20" stroke="#0000ff" stroke-width="1.2"/>
<path d="M296.75,14.10 297.46,14.60 297.66,15.10 297.64,15.60 297.17,16.10 296.57,16.60 296.21,17.10 295.91,17.60 295.67,18.10 295.53,18.60 295.44,19.10 295.36,19.60 295.30,20.10 295.25,20.60 295.20,21.10 295.16,21.60 295.12,22.10 295.08,22.60 295.04,23.10 295.00,23.60 294.96,24.10 294.93,24.60 294.90,25.10 294.88,25.60 294.86,26.10 294.85,26.50 L293.75,26.50 293.74,26.10 293.72,25.60 293.70,25.10 293.67,24.60 293.64,24.10 293.60,23.60 293.56,23.10 293.52,22.60 293.48,22.10 293.44,21.60 293.40,21.10 293.35,20.60 293.30,20.10 293.24,19.60 293.16,19.10 293.07,18.60 292.93,18.10 292.69,17.60 292.39,17.10 292.03,16.60 291.43,16.10 290.96,15.60 290.94,15.10 291.14,14.60 291.85,14.10 Z" fill="#000000" fill-opacity="0.54"/>
<path d="M293.75,19.10 L294.85,19.10 L294.66,67.60 L293.94,67.60 Z" fill="url(#g21)"/>
<line x1="292.55" y1="18.50" x2="296.05" y2="18.50" stroke="#000000" stroke-width="1.2"/>
<path d="M305.45,14.10 306.16,14.60 306.36,15.10 306.32,15.60 305.70,16.10 305.09,16.60 304.71,17.10 304.40,17.60 304.23,18.10 304.13,18.60 304.05,19.10 303.99,19.60 303.94,20.10 303.90,20.60 303.86,21.10 303.82,21.60 303.78,22.10 303.74,22.60 303.70,23.10 303.66,23.60 303.63,24.10 303.60,24.60 303.58,25.10 303.56,25.60 303.55,26.00 L302.45,26.00 302.44,25.60 302.42,25.10 302.40,24.60 302.37,24.10 302.34,23.60 302.30,23.10 302.26,22.60 302.22,22.10 302.18,21.60 302.14,21.10 302.10,20.60 302.06,20.10 302.01,19.60 301.95,19.10 301.87,18.60 301.77,18.10 301.60,17.60 301.29,17.10 300.91,16.60 300.30,16.10 299.68,15.60 299.64,15.10 299.84,14.60 300.55,14.10 Z" fill="#ff0000" fill-opacity="0.54"/>
<path d="M302.45,18.60 L303.55,18.60 L303.36,69.60 L302.64,69.60 Z" fill="url(#g22)"/>
<line x1="301.25" y1="18.00" x2="304.75" y2="18.00" stroke="#ff0000" stroke-width="1.2"/>
<path d="M314.40,14.10 314.80,14.60 314.99,15.10 315.11,15.60 315.18,16.10 315.20,16.60 315.09,17.10 314.87,17.60 314.60,18.10 314.35,18.60 314.09,19.10 313.81,19.60 313.52,20.10 313.25,20.60 312.98,21.10 312.87,21.60 312.78,22.10 312.71,22.60 312.66,23.10 312.61,23.60 312.57,24.10 312.53,24.60 312.49,25.10 312.45,25.60 312.41,26.10 312.38,26.60 312.34,27.10 312.31,27.60 312.28,28.10 312.25,28.60 312.23,29.10 312.21,29.60 312.20,30.00 L311.00,30.00 310.99,29.60 310.97,29.10 310.95,28.60 310.92,28.10 310.89,27.60 310.86,27.10 310.82,26.60 310.79,26.10 310.75,25.60 310.71,25.10 310.67,24.60 310.63,24.10 310.59,23.60 310.54,23.10 310.49,22.60 310.42,22.10 310.33,21.60 310.22,21.10 309.95,20.60 309.68,20.10 309.39,19.60 309.11,19.10 308.85,18.60 308.60,18.10 308.33,17.60 308.11,17.10 308.00,16.60 308.02,16.10 308.09,15.60 308.21,15.10 308.40,14.60 308.80,14.10 Z" fill="#ffa500" fill-opacity="0.54"/>
<path d="M311.05,21.70 L312.15,21.70 L311.96,70.50 L311.24,70.50 Z" fill="url(#g23)"/>
<line x1="309.85" y1="21.10" x2="313.35" y2="21.10" stroke="#ffa500" stroke-width="1.2"/>
<path d="M321.80,14.50 322.20,15.00 322.50,15.50 322.70,16.00 322.87,16.50 323.00,17.00 323.12,17.50 323.20,18.00 323.27,18.50 323.34,19.00 323.39,19.50 323.43,20.00 323.45,20.50 323.45,21.00 323.44,21.50 323.43,22.00 323.42,22.50 323.40,23.00 323.38,23.50 323.35,24.00 323.33,24.50 323.30,25.00 323.26,25.50 323.18,26.00 323.09,26.50 322.97,27.00 322.85,27.50 322.71,28.00 322.58,28.50 322.44,29.00 322.31,29.50 322.20,30.00 322.09,30.50 321.98,31.00 321.86,31.50 321.74,32.00 321.63,32.50 321.52,33.00 321.42,33.50 321.33,34.00 321.26,34.50 321.20,35.00 321.15,35.50 321.10,36.00 321.05,36.50 321.01,37.00 320.98,37.50 320.95,38.00 320.92,38.50 320.90,39.00 320.87,39.50 320.85,40.00 320.82,40.50 320.80,41.00 320.78,41.50 320.76,42.00 320.74,42.50 320.73,43.00 320.72,43.50 320.71,44.00 320.70,44.50 320.70,45.00 L319.10,45.00 319.10,44.50 319.09,44.00 319.08,43.50 319.07,43.00 319.06,42.50 319.04,42.00 319.02,41.50 319.00,41.00 318.98,40.50 318.95,40.00 318.93,39.50 318.90,39.00 318.88,38.50 318.85,38.00 318.82,37.50 318.79,37.00 318.75,36.50 318.70,36.00 318.65,35.50 318.60,35.00 318.54,34.50 318.47,34.00 318.38,33.50 318.28,33.00 318.17,32.50 318.06,32.00 317.94,31.50 317.82,31.00 317.71,30.50 317.60,30.00 317.49,29.50 317.36,29.00 317.22,28.50 317.09,28.00 316.95,27.50 316.83,27.00 316.71,26.50 316.62,26.00 316.54,25.50 316.50,25.00 316.47,24.50 316.45,24.00 316.42,23.50 316.40,23.00 316.38,22.50 316.37,22.00 316.36,21.50 316.35,21.00 316.35,20.50 316.37,20.00 316.41,19.50 316.46,19.00 316.53,18.50 316.60,18.00 316.68,17.50 316.80,17.00 316.93,16.50 317.10,16.00 317.30,15.50 317.60,15.00 318.00,14.50 Z" fill="#12a012" fill-opacity="0.54"/>
<path d="M319.10,35.80 L320.70,35.80 L320.42,153.40 L319.38,153.40 Z" fill="url(#g24)"/>
<line x1="318.15" y1="35.20" x2="321.65" y2="35.20" stroke="#1fae1f" stroke-width="1.2"/>
<path d="M350.20,14.40 350.45,14.90 350.59,15.40 350.66,15.90 350.71,16.40 350.74,16.90 350.77,17.40 350.80,17.90 350.82,18.40 350.84,18.90 350.86,19.40 350.88,19.90 350.89,20.40 350.90,20.90 350.90,21.40 350.89,21.90 350.87,22.40 350.83,22.90 350.77,23.40 350.71,23.90 350.63,24.40 350.55,24.90 350.47,25.40 350.38,25.90 350.30,26.40 350.22,26.90 350.13,27.40 350.04,27.90 349.94,28.40 349.83,28.90 349.72,29.40 349.61,29.90 349.49,30.40 349.38,30.90 349.27,31.40 349.17,31.90 349.08,32.40 348.99,32.90 348.92,33.40 348.87,33.90 348.82,34.40 348.78,34.90 348.74,35.40 348.71,35.90 348.68,36.40 348.65,36.90 348.65,37.00 L346.75,37.00 346.75,36.90 346.72,36.40 346.69,35.90 346.66,35.40 346.62,34.90 346.58,34.40 346.53,33.90 346.48,33.40 346.41,32.90 346.32,32.40 346.23,31.90 346.13,31.40 346.02,30.90 345.91,30.40 345.79,29.90 345.68,29.40 345.57,28.90 345.46,28.40 345.36,27.90 345.27,27.40 345.18,26.90 345.10,26.40 345.02,25.90 344.93,25.40 344.85,24.90 344.77,24.40 344.69,23.90 344.63,23.40 344.57,22.90 344.53,22.40 344.51,21.90 344.50,21.40 344.50,20.90 344.51,20.40 344.52,19.90 344.54,19.40 344.56,18.90 344.58,18.40 344.60,17.90 344.63,17.40 344.66,16.90 344.69,16.40 344.74,15.90 344.81,15.40 344.95,14.90 345.20,14.40 Z" fill="#0000ff" fill-opacity="0.54"/>
<path d="M346.75,36.70 L348.65,36.70 L348.10,151.80 L347.30,151.80 Z" fill="url(#g25)"/>
<line x1="345.95" y1="35.30" x2="349.45" y2="35.30" stroke="#0000ff" stroke-width="1.2"/>
<path d="M359.10,14.20 359.27,14.70 359.30,15.20 359.29,15.70 359.28,16.20 359.26,16.70 359.24,17.20 359.22,17.70 359.19,18.20 359.15,18.70 359.12,19.20 359.09,19.70 359.05,20.20 359.01,20.70 358.95,21.20 358.88,21.70 358.80,22.20 358.71,22.70 358.62,23.20 358.52,23.70 358.43,24.20 358.33,24.70 358.24,25.20 358.15,25.70 358.07,26.20 357.99,26.70 357.90,27.20 357.81,27.70 357.72,28.20 357.63,28.70 357.54,29.20 357.45,29.70 357.37,30.20 357.28,30.70 357.20,31.20 357.13,31.70 357.06,32.20 356.99,32.70 356.94,33.20 356.89,33.70 356.85,34.20 356.82,34.70 356.79,35.20 356.77,35.70 356.75,36.20 356.73,36.70 356.70,37.20 356.67,37.70 356.64,38.20 356.60,38.70 356.60,38.70 L355.00,38.70 355.00,38.70 354.96,38.20 354.93,37.70 354.90,37.20 354.87,36.70 354.85,36.20 354.83,35.70 354.81,35.20 354.78,34.70 354.75,34.20 354.71,33.70 354.66,33.20 354.61,32.70 354.54,32.20 354.47,31.70 354.40,31.20 354.32,30.70 354.23,30.20 354.15,29.70 354.06,29.20 353.97,28.70 353.88,28.20 353.79,27.70 353.70,27.20 353.61,26.70 353.53,26.20 353.45,25.70 353.36,25.20 353.27,24.70 353.17,24.20 353.08,23.70 352.98,23.20 352.89,22.70 352.80,22.20 352.72,21.70 352.65,21.20 352.59,20.70 352.55,20.20 352.51,19.70 352.48,19.20 352.45,18.70 352.41,18.20 352.38,17.70 352.36,17.20 352.34,16.70 352.32,16.20 352.31,15.70 352.30,15.20 352.33,14.70 352.50,14.20 Z" fill="#000000" fill-opacity="0.54"/>
<path d="M355.00,38.40 L356.60,38.40 L356.20,153.30 L355.40,153.30 Z" fill="url(#g26)"/>
<line x1="354.05" y1="37.20" x2="357.55" y2="37.20" stroke="#000000" stroke-width="1.2"/>
<path d="M367.20,14.20 367.40,14.70 367.45,15.20 367.45,15.70 367.45,16.20 367.44,16.70 367.44,17.20 367.43,17.70 367.42,18.20 367.41,18.70 367.41,19.20 367.39,19.70 367.38,20.20 367.37,20.70 367.36,21.20 367.34,21.70 367.32,22.20 367.27,22.70 367.22,23.20 367.16,23.70 367.09,24.20 367.01,24.70 366.93,25.20 366.85,25.70 366.77,26.20 366.69,26.70 366.61,27.20 366.54,27.70 366.47,28.20 366.41,28.70 366.34,29.20 366.28,29.70 366.21,30.20 366.14,30.70 366.08,31.20 366.01,31.70 365.94,32.20 365.87,32.70 365.81,33.20 365.74,33.70 365.68,34.20 365.62,34.70 365.56,35.20 365.50,35.70 365.44,36.20 365.39,36.70 365.34,37.20 365.29,37.70 365.24,38.20 365.20,38.70 365.16,39.20 365.13,39.70 365.10,40.20 365.07,40.70 365.03,41.20 365.00,41.70 365.00,41.70 L363.40,41.70 363.40,41.70 363.37,41.20 363.33,40.70 363.30,40.20 363.27,39.70 363.24,39.20 363.20,38.70 363.16,38.20 363.11,37.70 363.06,37.20 363.01,36.70 362.96,36.20 362.90,35.70 362.84,35.20 362.78,34.70 362.72,34.20 362.66,33.70 362.59,33.20 362.53,32.70 362.46,32.20 362.39,31.70 362.32,31.20 362.26,30.70 362.19,30.20 362.12,29.70 362.06,29.20 361.99,28.70 361.93,28.20 361.86,27.70 361.79,27.20 361.71,26.70 361.63,26.20 361.55,25.70 361.47,25.20 361.39,24.70 361.31,24.20 361.24,23.70 361.18,23.20 361.13,22.70 361.08,22.20 361.06,21.70 361.04,21.20 361.03,20.70 361.02,20.20 361.01,19.70 360.99,19.20 360.99,18.70 360.98,18.20 360.97,17.70 360.96,17.20 360.96,16.70 360.95,16.20 360.95,15.70 360.95,15.20 361.00,14.70 361.20,14.20 Z" fill="#ff0000" fill-opacity="0.54"/>
<path d="M363.40,41.40 L365.00,41.40 L364.60,158.20 L363.80,158.20 Z" fill="url(#g27)"/>
<line x1="362.45" y1="40.20" x2="365.95" y2="40.20" stroke="#ff0000" stroke-width="1.2"/>
<path d="M375.60,15.10 375.94,15.60 376.18,16.10 376.24,16.60 376.28,17.10 376.32,17.60 376.35,18.10 376.37,18.60 376.40,19.10 376.41,19.60 376.43,20.10 376.44,20.60 376.45,21.10 376.45,21.60 376.45,22.10 376.45,22.60 376.45,23.10 376.44,23.60 376.44,24.10 376.44,24.60 376.43,25.10 376.42,25.60 376.42,26.10 376.41,26.60 376.40,27.10 376.39,27.60 376.38,28.10 376.37,28.60 376.36,29.10 376.35,29.60 376.34,30.10 376.32,30.60 376.31,31.10 376.30,31.60 376.28,32.10 376.27,32.60 376.26,33.10 376.24,33.60 376.23,34.10 376.21,34.60 376.20,35.10 376.18,35.60 376.16,36.10 376.14,36.60 376.12,37.10 376.09,37.60 376.07,38.10 376.04,38.60 376.01,39.10 375.98,39.60 375.94,40.10 375.91,40.60 375.88,41.10 375.84,41.60 375.80,42.10 375.76,42.60 375.72,43.10 375.68,43.60 375.64,44.10 375.60,44.60 375.55,45.10 375.51,45.60 375.46,46.10 375.41,46.60 375.35,47.10 375.29,47.60 375.22,48.10 375.15,48.60 375.08,49.10 375.01,49.60 374.94,50.10 374.86,50.60 374.79,51.10 374.72,51.60 374.66,52.10 374.59,52.60 374.53,53.10 374.48,53.60 374.43,54.10 374.38,54.60 374.34,55.10 374.29,55.60 374.25,56.10 374.20,56.60 374.15,57.10 374.10,57.60 374.05,58.10 374.00,58.60 373.95,59.10 373.89,59.60 373.85,60.00 L372.15,60.00 372.11,59.60 372.05,59.10 372.00,58.60 371.95,58.10 371.90,57.60 371.85,57.10 371.80,56.60 371.75,56.10 371.71,55.60 371.66,55.10 371.62,54.60 371.57,54.10 371.52,53.60 371.47,53.10 371.41,52.60 371.34,52.10 371.28,51.60 371.21,51.10 371.14,50.60 371.06,50.10 370.99,49.60 370.92,49.10 370.85,48.60 370.78,48.10 370.71,47.60 370.65,47.10 370.59,46.60 370.54,46.10 370.49,45.60 370.45,45.10 370.40,44.60 370.36,44.10 370.32,43.60 370.28,43.10 370.24,42.60 370.20,42.10 370.16,41.60 370.12,41.10 370.09,40.60 370.06,40.10 370.02,39.60 369.99,39.10 369.96,38.60 369.93,38.10 369.91,37.60 369.88,37.10 369.86,36.60 369.84,36.10 369.82,35.60 369.80,35.10 369.79,34.60 369.77,34.10 369.76,33.60 369.74,33.10 369.73,32.60 369.72,32.10 369.70,31.60 369.69,31.10 369.68,30.60 369.66,30.10 369.65,29.60 369.64,29.10 369.63,28.60 369.62,28.10 369.61,27.60 369.60,27.10 369.59,26.60 369.58,26.10 369.58,25.60 369.57,25.10 369.56,24.60 369.56,24.10 369.56,23.60 369.55,23.10 369.55,22.60 369.55,22.10 369.55,21.60 369.55,21.10 369.56,20.60 369.57,20.10 369.59,19.60 369.60,19.10 369.63,18.60 369.65,18.10 369.68,17.60 369.72,17.10 369.76,16.60 369.82,16.10 370.06,15.60 370.40,15.10 Z" fill="#ffa500" fill-opacity="0.54"/>
<path d="M372.00,59.70 L374.00,59.70 L373.45,153.80 L372.55,153.80 Z" fill="url(#g28)"/>
<line x1="371.25" y1="56.60" x2="374.75" y2="56.60" stroke="#ffa500" stroke-width="1.2"/>
<path d="M382.80,16.10 383.08,16.60 383.34,17.10 383.56,17.60 383.73,18.10 383.87,18.60 384.00,19.10 384.11,19.60 384.22,20.10 384.31,20.60 384.39,21.10 384.46,21.60 384.51,22.10 384.56,22.60 384.61,23.10 384.66,23.60 384.70,24.10 384.74,24.60 384.78,25.10 384.82,25.60 384.85,26.10 384.88,26.60 384.91,27.10 384.93,27.60 384.94,28.10 384.95,28.60 384.95,29.10 384.95,29.60 384.95,30.10 384.95,30.60 384.95,31.10 384.95,31.60 384.95,32.10 384.94,32.60 384.94,33.10 384.94,33.60 384.94,34.10 384.94,34.60 384.93,35.10 384.93,35.60 384.93,36.10 384.93,36.60 384.92,37.10 384.92,37.60 384.92,38.10 384.91,38.60 384.91,39.10 384.90,39.60 384.90,40.10 384.89,40.60 384.88,41.10 384.87,41.60 384.85,42.10 384.83,42.60 384.81,43.10 384.78,43.60 384.75,44.10 384.72,44.60 384.69,45.10 384.66,45.60 384.63,46.10 384.59,46.60 384.56,47.10 384.53,47.60 384.49,48.10 384.46,48.60 384.42,49.10 384.37,49.60 384.33,50.10 384.28,50.60 384.23,51.10 384.18,51.60 384.13,52.10 384.07,52.60 384.02,53.10 383.96,53.60 383.90,54.10 383.85,54.60 383.79,55.10 383.74,55.60 383.69,56.10 383.64,56.60 383.58,57.10 383.53,57.60 383.48,58.10 383.42,58.60 383.37,59.10 383.31,59.60 383.26,60.10 383.20,60.60 383.15,61.10 383.10,61.60 383.04,62.10 382.99,62.60 382.95,63.10 382.90,63.60 382.86,64.10 382.82,64.60 382.78,65.10 382.74,65.60 382.69,66.10 382.63,66.60 382.57,67.10 382.51,67.60 382.45,68.00 L380.35,68.00 380.29,67.60 380.23,67.10 380.17,66.60 380.11,66.10 380.06,65.60 380.02,65.10 379.98,64.60 379.94,64.10 379.90,63.60 379.85,63.10 379.81,62.60 379.76,62.10 379.70,61.60 379.65,61.10 379.60,60.60 379.54,60.10 379.49,59.60 379.43,59.10 379.38,58.60 379.32,58.10 379.27,57.60 379.22,57.10 379.16,56.60 379.11,56.10 379.06,55.60 379.01,55.10 378.95,54.60 378.90,54.10 378.84,53.60 378.78,53.10 378.73,52.60 378.67,52.10 378.62,51.60 378.57,51.10 378.52,50.60 378.47,50.10 378.43,49.60 378.38,49.10 378.34,48.60 378.31,48.10 378.27,47.60 378.24,47.10 378.21,46.60 378.17,46.10 378.14,45.60 378.11,45.10 378.08,44.60 378.05,44.10 378.02,43.60 377.99,43.10 377.97,42.60 377.95,42.10 377.93,41.60 377.92,41.10 377.91,40.60 377.90,40.10 377.90,39.60 377.89,39.10 377.89,38.60 377.88,38.10 377.88,37.60 377.88,37.10 377.87,36.60 377.87,36.10 377.87,35.60 377.87,35.10 377.86,34.60 377.86,34.10 377.86,33.60 377.86,33.10 377.86,32.60 377.85,32.10 377.85,31.60 377.85,31.10 377.85,30.60 377.85,30.10 377.85,29.60 377.85,29.10 377.85,28.60 377.86,28.10 377.87,27.60 377.89,27.10 377.92,26.60 377.95,26.10 377.98,25.60 378.02,25.10 378.06,24.60 378.10,24.10 378.14,23.60 378.19,23.10 378.24,22.60 378.29,22.10 378.34,21.60 378.41,21.10 378.49,20.60 378.58,20.10 378.69,19.60 378.80,19.10 378.93,18.60 379.07,18.10 379.24,17.60 379.46,17.10 379.72,16.60 380.00,16.10 Z" fill="#12a012" fill-opacity="0.54"/>
<path d="M380.10,67.70 L382.70,67.70 L381.90,156.20 L380.90,156.20 Z" fill="url(#g29)"/>
<line x1="379.65" y1="64.80" x2="383.15" y2="64.80" stroke="#1fae1f" stroke-width="1.2"/>
<path d="M33.50,9.00 V167.40 H385.80" fill="none" stroke="#404040" stroke-width="1"/>
<line x1="31.30" y1="13.80" x2="33.50" y2="13.80" stroke="#303030" stroke-width="0.9"/>
<text x="29.30" y="16.25" text-anchor="end" font-size="7.3" letter-spacing="-0.25">1</text>
<line x1="31.30" y1="32.29" x2="33.50" y2="32.29" stroke="#303030" stroke-width="0.9"/>
<text x="29.30" y="34.74" text-anchor="end" font-size="7.3" letter-spacing="-0.25">0.75</text>
<line x1="31.30" y1="50.77" x2="33.50" y2="50.77" stroke="#303030" stroke-width="0.9"/>
<text x="29.30" y="53.22" text-anchor="end" font-size="7.3" letter-spacing="-0.25">0.5</text>
<line x1="31.30" y1="69.26" x2="33.50" y2="69.26" stroke="#303030" stroke-width="0.9"/>
<text x="29.30" y="71.71" text-anchor="end" font-size="7.3" letter-spacing="-0.25">0.25</text>
<line x1="31.30" y1="87.75" x2="33.50" y2="87.75" stroke="#303030" stroke-width="0.9"/>
<text x="29.30" y="90.20" text-anchor="end" font-size="7.3" letter-spacing="-0.25">0</text>
<line x1="31.30" y1="106.24" x2="33.50" y2="106.24" stroke="#303030" stroke-width="0.9"/>
<text x="29.30" y="108.69" text-anchor="end" font-size="7.3" letter-spacing="-0.25">-0.25</text>
<line x1="31.30" y1="124.72" x2="33.50" y2="124.72" stroke="#303030" stroke-width="0.9"/>
<text x="29.30" y="127.17" text-anchor="end" font-size="7.3" letter-spacing="-0.25">-0.5</text>
<line x1="31.30" y1="143.21" x2="33.50" y2="143.21" stroke="#303030" stroke-width="0.9"/>
<text x="29.30" y="145.66" text-anchor="end" font-size="7.3" letter-spacing="-0.25">-0.75</text>
<line x1="31.30" y1="161.70" x2="33.50" y2="161.70" stroke="#303030" stroke-width="0.9"/>
<text x="29.30" y="164.15" text-anchor="end" font-size="7.3" letter-spacing="-0.25">-1</text>
<text x="45.70" y="173.60" font-size="7.2" textLength="22.6" lengthAdjust="spacingAndGlyphs">sagittal</text>
<text x="108.90" y="173.60" font-size="7.2" textLength="20.4" lengthAdjust="spacingAndGlyphs">frontal</text>
<text x="164.70" y="173.60" font-size="7.2" textLength="31.4" lengthAdjust="spacingAndGlyphs">transverse</text>
<text x="230.30" y="173.60" font-size="7.2" textLength="22.6" lengthAdjust="spacingAndGlyphs">sagittal</text>
<text x="292.60" y="173.60" font-size="7.2" textLength="20.4" lengthAdjust="spacingAndGlyphs">frontal</text>
<text x="348.80" y="173.60" font-size="7.2" textLength="31.4" lengthAdjust="spacingAndGlyphs">transverse</text>
<text transform="translate(7.90,88.20) rotate(-90)" x="-32.7" y="0" font-size="7.2" fill="#686868" textLength="65.4" lengthAdjust="spacingAndGlyphs">correlation coefficient</text>
<text x="186.90" y="7.40" font-size="7.8" textLength="44.40" lengthAdjust="spacingAndGlyphs">hip joint angle</text>
<line x1="258.00" y1="5.00" x2="267.90" y2="5.00" stroke="#0000ff" stroke-width="1.4" stroke-opacity="0.75"/>
<text x="268.80" y="7.90" font-size="7.4" textLength="13.90" lengthAdjust="spacingAndGlyphs">PTS</text>
<line x1="285.70" y1="5.00" x2="295.20" y2="5.00" stroke="#000000" stroke-width="1.4" stroke-opacity="0.75"/>
<text x="296.00" y="7.90" font-size="7.4" textLength="9.70" lengthAdjust="spacingAndGlyphs">PT</text>
<line x1="312.10" y1="5.00" x2="321.50" y2="5.00" stroke="#ff0000" stroke-width="1.4" stroke-opacity="0.75"/>
<text x="322.60" y="7.90" font-size="7.4" textLength="8.90" lengthAdjust="spacingAndGlyphs">PS</text>
<line x1="339.90" y1="5.00" x2="348.70" y2="5.00" stroke="#ffa500" stroke-width="1.4" stroke-opacity="0.75"/>
<text x="350.20" y="7.90" font-size="7.4" textLength="4.20" lengthAdjust="spacingAndGlyphs">P</text>
<line x1="361.30" y1="5.00" x2="370.70" y2="5.00" stroke="#1fae1f" stroke-width="1.4" stroke-opacity="0.75"/>
<text x="371.30" y="7.90" font-size="7.4" textLength="14.00" lengthAdjust="spacingAndGlyphs">PCA</text>
<path d="M46.30,197.60 45.80,198.20 44.30,198.80 43.80,199.50 L42.20,199.50 41.70,198.80 40.20,198.20 39.70,197.60 Z" fill="#0000ff" fill-opacity="0.54"/>
<path d="M42.30,199.00 L43.70,199.00 L43.45,204.80 L42.55,204.80 Z" fill="url(#g30)"/>
<line x1="40.70" y1="198.45" x2="45.30" y2="198.45" stroke="#0000ff" stroke-width="1.5"/>
<path d="M54.60,197.60 54.06,198.20 52.30,198.80 51.80,199.50 L50.20,199.50 49.70,198.80 47.94,198.20 47.40,197.60 Z" fill="#000000" fill-opacity="0.54"/>
<path d="M50.30,199.00 L51.70,199.00 L51.45,257.90 L50.55,257.90 Z" fill="url(#g31)"/>
<line x1="48.70" y1="198.45" x2="53.30" y2="198.45" stroke="#000000" stroke-width="1.5"/>
<path d="M62.50,197.60 62.01,198.20 60.50,198.80 60.00,199.50 L58.40,199.50 57.90,198.80 56.40,198.20 55.90,197.60 Z" fill="#ff0000" fill-opacity="0.54"/>
<path d="M58.50,199.00 L59.90,199.00 L59.66,202.80 L58.75,202.80 Z" fill="url(#g32)"/>
<line x1="56.90" y1="198.45" x2="61.50" y2="198.45" stroke="#ff0000" stroke-width="1.5"/>
<path d="M71.10,197.60 70.57,198.20 68.90,198.80 68.40,199.50 L66.80,199.50 66.30,198.80 64.62,198.20 64.10,197.60 Z" fill="#ffa500" fill-opacity="0.54"/>
<path d="M67.00,199.00 L68.20,199.00 L67.99,209.50 L67.21,209.50 Z" fill="url(#g33)"/>
<line x1="65.30" y1="198.45" x2="69.90" y2="198.45" stroke="#ffa500" stroke-width="1.5"/>
<path d="M78.90,197.70 79.43,198.20 79.49,198.70 79.46,199.20 79.40,199.70 79.32,200.20 79.13,200.70 78.73,201.20 78.27,201.70 77.90,202.20 77.63,202.70 77.40,203.20 77.24,203.70 77.12,204.20 77.03,204.70 77.00,205.00 L74.80,205.00 74.77,204.70 74.68,204.20 74.56,203.70 74.40,203.20 74.17,202.70 73.90,202.20 73.53,201.70 73.07,201.20 72.67,200.70 72.48,200.20 72.40,199.70 72.34,199.20 72.31,198.70 72.37,198.20 72.90,197.70 Z" fill="#12a012" fill-opacity="0.54"/>
<path d="M75.20,204.30 L76.60,204.30 L76.36,262.80 L75.45,262.80 Z" fill="url(#g34)"/>
<line x1="74.15" y1="203.70" x2="77.65" y2="203.70" stroke="#1fae1f" stroke-width="1.2"/>
<path d="M106.69,197.40 106.79,197.90 106.66,198.40 106.40,198.90 106.10,199.40 105.80,199.90 105.52,200.40 105.20,200.90 104.88,201.40 104.61,201.90 104.44,202.40 104.32,202.90 104.22,203.40 104.13,203.90 104.06,204.40 103.99,204.90 103.92,205.40 103.87,205.90 103.85,206.20 L102.75,206.20 102.73,205.90 102.68,205.40 102.61,204.90 102.54,204.40 102.47,203.90 102.38,203.40 102.28,202.90 102.16,202.40 101.99,201.90 101.72,201.40 101.40,200.90 101.08,200.40 100.80,199.90 100.50,199.40 100.20,198.90 99.94,198.40 99.81,197.90 99.91,197.40 Z" fill="#0000ff" fill-opacity="0.54"/>
<path d="M102.65,202.80 L103.95,202.80 L103.72,323.90 L102.88,323.90 Z" fill="url(#g35)"/>
<line x1="101.55" y1="202.20" x2="105.05" y2="202.20" stroke="#0000ff" stroke-width="1.2"/>
<path d="M114.80,197.40 114.89,197.90 114.79,198.40 114.58,198.90 114.32,199.40 114.05,199.90 113.81,200.40 113.55,200.90 113.26,201.40 112.98,201.90 112.74,202.40 112.57,202.90 112.44,203.40 112.34,203.90 112.25,204.40 112.17,204.90 112.10,205.40 112.03,205.90 111.98,206.40 111.95,206.80 L110.85,206.80 110.82,206.40 110.77,205.90 110.70,205.40 110.63,204.90 110.55,204.40 110.46,203.90 110.36,203.40 110.23,202.90 110.06,202.40 109.82,201.90 109.54,201.40 109.25,200.90 108.99,200.40 108.75,199.90 108.48,199.40 108.22,198.90 108.01,198.40 107.91,197.90 108.01,197.40 Z" fill="#000000" fill-opacity="0.54"/>
<path d="M110.75,203.40 L112.05,203.40 L111.82,318.00 L110.98,318.00 Z" fill="url(#g36)"/>
<line x1="109.65" y1="202.80" x2="113.15" y2="202.80" stroke="#000000" stroke-width="1.2"/>
<path d="M123.19,197.40 123.29,197.90 123.11,198.40 122.80,198.90 122.44,199.40 122.12,199.90 121.75,200.40 121.38,200.90 121.08,201.40 120.91,201.90 120.79,202.40 120.70,202.90 120.62,203.40 120.54,203.90 120.47,204.40 120.41,204.90 120.36,205.40 120.35,205.60 L119.25,205.60 119.24,205.40 119.19,204.90 119.13,204.40 119.06,203.90 118.98,203.40 118.90,202.90 118.81,202.40 118.69,201.90 118.52,201.40 118.22,200.90 117.85,200.40 117.48,199.90 117.16,199.40 116.80,198.90 116.49,198.40 116.31,197.90 116.41,197.40 Z" fill="#ff0000" fill-opacity="0.54"/>
<path d="M119.15,202.20 L120.45,202.20 L120.22,324.50 L119.38,324.50 Z" fill="url(#g37)"/>
<line x1="118.05" y1="201.60" x2="121.55" y2="201.60" stroke="#ff0000" stroke-width="1.2"/>
<path d="M131.19,197.40 131.30,197.90 131.23,198.40 131.09,198.90 130.90,199.40 130.69,199.90 130.47,200.40 130.27,200.90 130.08,201.40 129.87,201.90 129.65,202.40 129.43,202.90 129.23,203.40 129.06,203.90 128.92,204.40 128.80,204.90 128.70,205.40 128.62,205.90 128.54,206.40 128.47,206.90 128.41,207.40 128.36,207.90 128.35,208.10 L127.25,208.10 127.24,207.90 127.19,207.40 127.13,206.90 127.06,206.40 126.98,205.90 126.90,205.40 126.80,204.90 126.68,204.40 126.54,203.90 126.37,203.40 126.17,202.90 125.95,202.40 125.73,201.90 125.52,201.40 125.33,200.90 125.13,200.40 124.91,199.90 124.70,199.40 124.51,198.90 124.37,198.40 124.30,197.90 124.41,197.40 Z" fill="#ffa500" fill-opacity="0.54"/>
<path d="M127.15,204.70 L128.45,204.70 L128.22,338.40 L127.38,338.40 Z" fill="url(#g38)"/>
<line x1="126.05" y1="204.10" x2="129.55" y2="204.10" stroke="#ffa500" stroke-width="1.2"/>
<path d="M139.20,197.40 139.29,197.90 139.21,198.40 139.04,198.90 138.83,199.40 138.59,199.90 138.36,200.40 138.15,200.90 137.92,201.40 137.67,201.90 137.43,202.40 137.21,202.90 137.03,203.40 136.89,203.90 136.78,204.40 136.68,204.90 136.60,205.40 136.53,205.90 136.46,206.40 136.40,206.90 136.36,207.40 136.35,207.50 L135.25,207.50 135.24,207.40 135.20,206.90 135.14,206.40 135.07,205.90 135.00,205.40 134.92,204.90 134.82,204.40 134.71,203.90 134.57,203.40 134.39,202.90 134.17,202.40 133.93,201.90 133.68,201.40 133.45,200.90 133.24,200.40 133.01,199.90 132.77,199.40 132.56,198.90 132.39,198.40 132.31,197.90 132.41,197.40 Z" fill="#12a012" fill-opacity="0.54"/>
<path d="M135.15,204.10 L136.45,204.10 L136.22,328.20 L135.38,328.20 Z" fill="url(#g39)"/>
<line x1="134.05" y1="203.50" x2="137.55" y2="203.50" stroke="#1fae1f" stroke-width="1.2"/>
<path d="M167.09,197.60 167.18,198.10 166.94,198.60 166.55,199.10 166.15,199.60 165.72,200.10 165.27,200.60 164.94,201.10 164.78,201.60 164.67,202.10 164.58,202.60 164.50,203.10 164.43,203.60 164.36,204.10 164.30,204.60 164.26,205.10 164.25,205.20 L163.15,205.20 163.14,205.10 163.10,204.60 163.04,204.10 162.97,203.60 162.90,203.10 162.82,202.60 162.73,202.10 162.62,201.60 162.46,201.10 162.13,200.60 161.68,200.10 161.25,199.60 160.85,199.10 160.46,198.60 160.22,198.10 160.30,197.60 Z" fill="#0000ff" fill-opacity="0.54"/>
<path d="M163.05,201.80 L164.35,201.80 L164.12,255.50 L163.28,255.50 Z" fill="url(#g40)"/>
<line x1="161.95" y1="201.20" x2="165.45" y2="201.20" stroke="#0000ff" stroke-width="1.2"/>
<path d="M175.20,197.60 175.29,198.10 175.09,198.60 174.75,199.10 174.38,199.60 174.04,200.10 173.64,200.60 173.26,201.10 173.00,201.60 172.86,202.10 172.75,202.60 172.67,203.10 172.59,203.60 172.51,204.10 172.45,204.60 172.39,205.10 172.35,205.60 L171.25,205.60 171.21,205.10 171.15,204.60 171.09,204.10 171.01,203.60 170.93,203.10 170.85,202.60 170.74,202.10 170.60,201.60 170.34,201.10 169.96,200.60 169.56,200.10 169.22,199.60 168.85,199.10 168.51,198.60 168.31,198.10 168.41,197.60 Z" fill="#000000" fill-opacity="0.54"/>
<path d="M171.15,202.20 L172.45,202.20 L172.22,273.00 L171.38,273.00 Z" fill="url(#g41)"/>
<line x1="170.05" y1="201.60" x2="173.55" y2="201.60" stroke="#000000" stroke-width="1.2"/>
<path d="M183.20,197.60 183.28,198.10 183.00,198.60 182.55,199.10 182.12,199.60 181.62,200.10 181.17,200.60 180.93,201.10 180.81,201.60 180.71,202.10 180.63,202.60 180.56,203.10 180.49,203.60 180.42,204.10 180.37,204.60 180.35,204.90 L179.25,204.90 179.23,204.60 179.18,204.10 179.11,203.60 179.04,203.10 178.97,202.60 178.89,202.10 178.79,201.60 178.67,201.10 178.43,200.60 177.98,200.10 177.48,199.60 177.05,199.10 176.60,198.60 176.32,198.10 176.41,197.60 Z" fill="#ff0000" fill-opacity="0.54"/>
<path d="M179.15,201.50 L180.45,201.50 L180.22,248.30 L179.38,248.30 Z" fill="url(#g42)"/>
<line x1="178.05" y1="200.90" x2="181.55" y2="200.90" stroke="#ff0000" stroke-width="1.2"/>
<path d="M191.40,197.60 191.49,198.10 191.33,198.60 191.04,199.10 190.70,199.60 190.39,200.10 190.05,200.60 189.69,201.10 189.37,201.60 189.17,202.10 189.04,202.60 188.94,203.10 188.85,203.60 188.77,204.10 188.70,204.60 188.63,205.10 188.58,205.60 188.55,206.00 L187.45,206.00 187.42,205.60 187.37,205.10 187.30,204.60 187.23,204.10 187.15,203.60 187.06,203.10 186.96,202.60 186.83,202.10 186.63,201.60 186.31,201.10 185.95,200.60 185.61,200.10 185.30,199.60 184.96,199.10 184.67,198.60 184.51,198.10 184.60,197.60 Z" fill="#ffa500" fill-opacity="0.54"/>
<path d="M187.35,202.60 L188.65,202.60 L188.42,267.20 L187.58,267.20 Z" fill="url(#g43)"/>
<line x1="186.25" y1="202.00" x2="189.75" y2="202.00" stroke="#ffa500" stroke-width="1.2"/>
<path d="M199.70,197.60 199.79,198.10 199.71,198.60 199.54,199.10 199.33,199.60 199.09,200.10 198.86,200.60 198.65,201.10 198.42,201.60 198.17,202.10 197.93,202.60 197.71,203.10 197.53,203.60 197.39,204.10 197.28,204.60 197.18,205.10 197.10,205.60 197.03,206.10 196.96,206.60 196.90,207.10 196.86,207.60 196.85,207.70 L195.75,207.70 195.74,207.60 195.70,207.10 195.64,206.60 195.57,206.10 195.50,205.60 195.42,205.10 195.32,204.60 195.21,204.10 195.07,203.60 194.89,203.10 194.67,202.60 194.43,202.10 194.18,201.60 193.95,201.10 193.74,200.60 193.51,200.10 193.27,199.60 193.06,199.10 192.89,198.60 192.81,198.10 192.91,197.60 Z" fill="#12a012" fill-opacity="0.54"/>
<path d="M195.65,204.30 L196.95,204.30 L196.72,285.50 L195.88,285.50 Z" fill="url(#g44)"/>
<line x1="194.55" y1="203.70" x2="198.05" y2="203.70" stroke="#1fae1f" stroke-width="1.2"/>
<path d="M228.50,197.60 228.00,198.20 226.50,198.80 226.00,199.50 L224.40,199.50 223.90,198.80 222.39,198.20 221.90,197.60 Z" fill="#0000ff" fill-opacity="0.54"/>
<path d="M224.50,199.00 L225.90,199.00 L225.66,202.80 L224.74,202.80 Z" fill="url(#g45)"/>
<line x1="222.90" y1="198.45" x2="227.50" y2="198.45" stroke="#0000ff" stroke-width="1.5"/>
<path d="M236.50,197.60 236.00,198.20 234.50,198.80 234.00,199.50 L232.40,199.50 231.90,198.80 230.39,198.20 229.90,197.60 Z" fill="#000000" fill-opacity="0.54"/>
<path d="M232.50,199.00 L233.90,199.00 L233.66,202.80 L232.74,202.80 Z" fill="url(#g46)"/>
<line x1="230.90" y1="198.45" x2="235.50" y2="198.45" stroke="#000000" stroke-width="1.5"/>
<path d="M244.70,197.60 244.21,198.20 242.70,198.80 242.20,199.50 L240.60,199.50 240.10,198.80 238.59,198.20 238.10,197.60 Z" fill="#ff0000" fill-opacity="0.54"/>
<path d="M240.70,199.00 L242.10,199.00 L241.86,202.80 L240.94,202.80 Z" fill="url(#g47)"/>
<line x1="239.10" y1="198.45" x2="243.70" y2="198.45" stroke="#ff0000" stroke-width="1.5"/>
<path d="M252.90,197.60 252.38,198.20 250.70,198.80 250.20,199.50 L248.60,199.50 248.10,198.80 246.43,198.20 245.90,197.60 Z" fill="#ffa500" fill-opacity="0.54"/>
<path d="M248.80,199.00 L250.00,199.00 L249.79,209.20 L249.01,209.20 Z" fill="url(#g48)"/>
<line x1="247.10" y1="198.45" x2="251.70" y2="198.45" stroke="#ffa500" stroke-width="1.5"/>
<path d="M261.10,197.70 261.63,198.20 261.69,198.70 261.66,199.20 261.60,199.70 261.52,200.20 261.33,200.70 260.93,201.20 260.47,201.70 260.10,202.20 259.83,202.70 259.60,203.20 259.44,203.70 259.32,204.20 259.23,204.70 259.20,205.00 L257.00,205.00 256.97,204.70 256.88,204.20 256.76,203.70 256.60,203.20 256.37,202.70 256.10,202.20 255.73,201.70 255.27,201.20 254.87,200.70 254.68,200.20 254.60,199.70 254.54,199.20 254.51,198.70 254.57,198.20 255.10,197.70 Z" fill="#12a012" fill-opacity="0.54"/>
<path d="M257.40,204.10 L258.80,204.10 L258.56,268.00 L257.65,268.00 Z" fill="url(#g49)"/>
<line x1="256.35" y1="203.50" x2="259.85" y2="203.50" stroke="#1fae1f" stroke-width="1.2"/>
<path d="M290.39,197.50 290.48,198.00 290.26,198.50 289.87,199.00 289.48,199.50 289.08,200.00 288.64,200.50 288.29,201.00 288.11,201.50 287.99,202.00 287.90,202.50 287.82,203.00 287.74,203.50 287.67,204.00 287.61,204.50 287.56,205.00 287.55,205.20 L286.45,205.20 286.44,205.00 286.39,204.50 286.33,204.00 286.26,203.50 286.18,203.00 286.10,202.50 286.01,202.00 285.89,201.50 285.71,201.00 285.36,200.50 284.92,200.00 284.52,199.50 284.13,199.00 283.74,198.50 283.52,198.00 283.61,197.50 Z" fill="#0000ff" fill-opacity="0.54"/>
<path d="M286.35,201.80 L287.65,201.80 L287.42,329.80 L286.58,329.80 Z" fill="url(#g50)"/>
<line x1="285.25" y1="201.20" x2="288.75" y2="201.20" stroke="#0000ff" stroke-width="1.2"/>
<path d="M298.19,197.50 298.29,198.00 298.15,198.50 297.89,199.00 297.57,199.50 297.28,200.00 296.98,200.50 296.65,201.00 296.33,201.50 296.07,202.00 295.91,202.50 295.80,203.00 295.70,203.50 295.62,204.00 295.54,204.50 295.47,205.00 295.41,205.50 295.36,206.00 295.35,206.20 L294.25,206.20 294.24,206.00 294.19,205.50 294.13,205.00 294.06,204.50 293.98,204.00 293.90,203.50 293.80,203.00 293.69,202.50 293.53,202.00 293.27,201.50 292.95,201.00 292.62,200.50 292.32,200.00 292.03,199.50 291.71,199.00 291.45,198.50 291.31,198.00 291.41,197.50 Z" fill="#000000" fill-opacity="0.54"/>
<path d="M294.15,202.80 L295.45,202.80 L295.22,335.60 L294.38,335.60 Z" fill="url(#g51)"/>
<line x1="293.05" y1="202.20" x2="296.55" y2="202.20" stroke="#000000" stroke-width="1.2"/>
<path d="M306.29,197.50 306.38,198.00 306.16,198.50 305.77,199.00 305.38,199.50 304.98,200.00 304.54,200.50 304.19,201.00 304.01,201.50 303.89,202.00 303.80,202.50 303.72,203.00 303.64,203.50 303.57,204.00 303.51,204.50 303.46,205.00 303.45,205.20 L302.35,205.20 302.34,205.00 302.29,204.50 302.23,204.00 302.16,203.50 302.08,203.00 302.00,202.50 301.91,202.00 301.79,201.50 301.61,201.00 301.26,200.50 300.82,200.00 300.42,199.50 300.03,199.00 299.64,198.50 299.42,198.00 299.50,197.50 Z" fill="#ff0000" fill-opacity="0.54"/>
<path d="M302.25,201.80 L303.55,201.80 L303.32,338.60 L302.48,338.60 Z" fill="url(#g52)"/>
<line x1="301.15" y1="201.20" x2="304.65" y2="201.20" stroke="#ff0000" stroke-width="1.2"/>
<path d="M314.29,197.50 314.39,198.00 314.28,198.50 314.07,199.00 313.80,199.50 313.53,200.00 313.28,200.50 313.01,201.00 312.72,201.50 312.44,202.00 312.21,202.50 312.04,203.00 311.92,203.50 311.82,204.00 311.73,204.50 311.66,205.00 311.59,205.50 311.52,206.00 311.47,206.50 311.45,206.80 L310.35,206.80 310.33,206.50 310.28,206.00 310.21,205.50 310.14,205.00 310.07,204.50 309.98,204.00 309.88,203.50 309.76,203.00 309.59,202.50 309.36,202.00 309.08,201.50 308.79,201.00 308.52,200.50 308.27,200.00 308.00,199.50 307.73,199.00 307.52,198.50 307.41,198.00 307.50,197.50 Z" fill="#ffa500" fill-opacity="0.54"/>
<path d="M310.25,203.40 L311.55,203.40 L311.32,337.10 L310.48,337.10 Z" fill="url(#g53)"/>
<line x1="309.15" y1="202.80" x2="312.65" y2="202.80" stroke="#ffa500" stroke-width="1.2"/>
<path d="M322.50,197.50 322.59,198.00 322.48,198.50 322.27,199.00 322.00,199.50 321.73,200.00 321.48,200.50 321.21,201.00 320.92,201.50 320.64,202.00 320.41,202.50 320.24,203.00 320.12,203.50 320.02,204.00 319.93,204.50 319.86,205.00 319.79,205.50 319.72,206.00 319.67,206.50 319.65,206.80 L318.55,206.80 318.53,206.50 318.48,206.00 318.41,205.50 318.34,205.00 318.27,204.50 318.18,204.00 318.08,203.50 317.96,203.00 317.79,202.50 317.56,202.00 317.28,201.50 316.99,201.00 316.72,200.50 316.47,200.00 316.20,199.50 315.93,199.00 315.72,198.50 315.61,198.00 315.71,197.50 Z" fill="#12a012" fill-opacity="0.54"/>
<path d="M318.45,203.40 L319.75,203.40 L319.52,335.60 L318.68,335.60 Z" fill="url(#g54)"/>
<line x1="317.35" y1="202.80" x2="320.85" y2="202.80" stroke="#1fae1f" stroke-width="1.2"/>
<path d="M351.39,197.50 351.50,198.00 351.46,198.50 351.37,199.00 351.25,199.50 351.11,200.00 350.96,200.50 350.80,201.00 350.63,201.50 350.39,202.00 350.12,202.50 349.84,203.00 349.57,203.50 349.34,204.00 349.17,204.50 349.04,205.00 348.94,205.50 348.85,206.00 348.77,206.50 348.70,207.00 348.63,207.50 348.58,208.00 348.55,208.40 L347.45,208.40 347.42,208.00 347.37,207.50 347.30,207.00 347.23,206.50 347.15,206.00 347.06,205.50 346.96,205.00 346.83,204.50 346.66,204.00 346.43,203.50 346.16,203.00 345.88,202.50 345.61,202.00 345.37,201.50 345.20,201.00 345.04,200.50 344.89,200.00 344.75,199.50 344.63,199.00 344.54,198.50 344.50,198.00 344.61,197.50 Z" fill="#0000ff" fill-opacity="0.54"/>
<path d="M347.35,205.00 L348.65,205.00 L348.42,296.10 L347.58,296.10 Z" fill="url(#g55)"/>
<line x1="346.25" y1="204.40" x2="349.75" y2="204.40" stroke="#0000ff" stroke-width="1.2"/>
<path d="M359.29,197.50 359.40,198.00 359.36,198.50 359.29,199.00 359.19,199.50 359.07,200.00 358.94,200.50 358.80,201.00 358.66,201.50 358.49,202.00 358.27,202.50 358.03,203.00 357.78,203.50 357.53,204.00 357.31,204.50 357.13,205.00 356.99,205.50 356.88,206.00 356.78,206.50 356.70,207.00 356.63,207.50 356.56,208.00 356.50,208.50 356.46,209.00 356.45,209.10 L355.35,209.10 355.34,209.00 355.30,208.50 355.24,208.00 355.17,207.50 355.10,207.00 355.02,206.50 354.92,206.00 354.81,205.50 354.67,205.00 354.49,204.50 354.27,204.00 354.02,203.50 353.77,203.00 353.53,202.50 353.31,202.00 353.14,201.50 353.00,201.00 352.86,200.50 352.73,200.00 352.61,199.50 352.51,199.00 352.44,198.50 352.40,198.00 352.50,197.50 Z" fill="#000000" fill-opacity="0.54"/>
<path d="M355.25,205.70 L356.55,205.70 L356.32,309.20 L355.48,309.20 Z" fill="url(#g56)"/>
<line x1="354.15" y1="205.10" x2="357.65" y2="205.10" stroke="#000000" stroke-width="1.2"/>
<path d="M367.79,197.50 367.90,198.00 367.85,198.50 367.74,199.00 367.60,199.50 367.43,200.00 367.26,200.50 367.08,201.00 366.82,201.50 366.52,202.00 366.20,202.50 365.90,203.00 365.67,203.50 365.52,204.00 365.40,204.50 365.30,205.00 365.22,205.50 365.14,206.00 365.07,206.50 365.01,207.00 364.96,207.50 364.95,207.70 L363.85,207.70 363.84,207.50 363.79,207.00 363.73,206.50 363.66,206.00 363.58,205.50 363.50,205.00 363.40,204.50 363.28,204.00 363.13,203.50 362.90,203.00 362.60,202.50 362.28,202.00 361.98,201.50 361.72,201.00 361.54,200.50 361.37,200.00 361.20,199.50 361.06,199.00 360.95,198.50 360.90,198.00 361.00,197.50 Z" fill="#ff0000" fill-opacity="0.54"/>
<path d="M363.75,204.30 L365.05,204.30 L364.82,312.10 L363.98,312.10 Z" fill="url(#g57)"/>
<line x1="362.65" y1="203.70" x2="366.15" y2="203.70" stroke="#ff0000" stroke-width="1.2"/>
<path d="M376.39,197.50 376.50,198.00 376.47,198.50 376.42,199.00 376.34,199.50 376.24,200.00 376.13,200.50 376.02,201.00 375.89,201.50 375.77,202.00 375.63,202.50 375.46,203.00 375.26,203.50 375.04,204.00 374.83,204.50 374.62,205.00 374.42,205.50 374.26,206.00 374.12,206.50 374.00,207.00 373.90,207.50 373.82,208.00 373.74,208.50 373.67,209.00 373.61,209.50 373.56,210.00 373.55,210.20 L372.45,210.20 372.44,210.00 372.39,209.50 372.33,209.00 372.26,208.50 372.18,208.00 372.10,207.50 372.00,207.00 371.88,206.50 371.74,206.00 371.58,205.50 371.38,205.00 371.17,204.50 370.96,204.00 370.74,203.50 370.54,203.00 370.37,202.50 370.23,202.00 370.11,201.50 369.98,201.00 369.87,200.50 369.76,200.00 369.66,199.50 369.58,199.00 369.53,198.50 369.50,198.00 369.61,197.50 Z" fill="#ffa500" fill-opacity="0.54"/>
<path d="M372.35,206.80 L373.65,206.80 L373.42,314.40 L372.58,314.40 Z" fill="url(#g58)"/>
<line x1="371.25" y1="206.20" x2="374.75" y2="206.20" stroke="#ffa500" stroke-width="1.2"/>
<path d="M384.59,197.50 384.70,198.00 384.68,198.50 384.65,199.00 384.60,199.50 384.54,200.00 384.47,200.50 384.39,201.00 384.31,201.50 384.22,202.00 384.13,202.50 384.03,203.00 383.94,203.50 383.83,204.00 383.71,204.50 383.57,205.00 383.42,205.50 383.27,206.00 383.11,206.50 382.95,207.00 382.79,207.50 382.64,208.00 382.50,208.50 382.38,209.00 382.26,209.50 382.14,210.00 382.05,210.50 381.97,211.00 381.90,211.50 381.83,212.00 381.78,212.50 381.75,212.90 L380.65,212.90 380.62,212.50 380.57,212.00 380.50,211.50 380.43,211.00 380.35,210.50 380.26,210.00 380.14,209.50 380.02,209.00 379.90,208.50 379.76,208.00 379.61,207.50 379.45,207.00 379.29,206.50 379.13,206.00 378.98,205.50 378.83,205.00 378.69,204.50 378.57,204.00 378.46,203.50 378.37,203.00 378.27,202.50 378.18,202.00 378.09,201.50 378.01,201.00 377.93,200.50 377.86,200.00 377.80,199.50 377.75,199.00 377.72,198.50 377.70,198.00 377.81,197.50 Z" fill="#12a012" fill-opacity="0.54"/>
<path d="M380.55,209.50 L381.85,209.50 L381.62,326.60 L380.78,326.60 Z" fill="url(#g59)"/>
<line x1="379.45" y1="208.90" x2="382.95" y2="208.90" stroke="#1fae1f" stroke-width="1.2"/>
<path d="M34.50,193.00 V350.90 H386.70" fill="none" stroke="#404040" stroke-width="1"/>
<line x1="32.30" y1="197.60" x2="34.50" y2="197.60" stroke="#303030" stroke-width="0.9"/>
<text x="30.30" y="200.05" text-anchor="end" font-size="7.3" letter-spacing="-0.25">1</text>
<line x1="32.30" y1="216.10" x2="34.50" y2="216.10" stroke="#303030" stroke-width="0.9"/>
<text x="30.30" y="218.55" text-anchor="end" font-size="7.3" letter-spacing="-0.25">0.75</text>
<line x1="32.30" y1="234.60" x2="34.50" y2="234.60" stroke="#303030" stroke-width="0.9"/>
<text x="30.30" y="237.05" text-anchor="end" font-size="7.3" letter-spacing="-0.25">0.5</text>
<line x1="32.30" y1="253.10" x2="34.50" y2="253.10" stroke="#303030" stroke-width="0.9"/>
<text x="30.30" y="255.55" text-anchor="end" font-size="7.3" letter-spacing="-0.25">0.25</text>
<line x1="32.30" y1="271.60" x2="34.50" y2="271.60" stroke="#303030" stroke-width="0.9"/>
<text x="30.30" y="274.05" text-anchor="end" font-size="7.3" letter-spacing="-0.25">0</text>
<line x1="32.30" y1="290.10" x2="34.50" y2="290.10" stroke="#303030" stroke-width="0.9"/>
<text x="30.30" y="292.55" text-anchor="end" font-size="7.3" letter-spacing="-0.25">-0.25</text>
<line x1="32.30" y1="308.60" x2="34.50" y2="308.60" stroke="#303030" stroke-width="0.9"/>
<text x="30.30" y="311.05" text-anchor="end" font-size="7.3" letter-spacing="-0.25">-0.5</text>
<line x1="32.30" y1="327.10" x2="34.50" y2="327.10" stroke="#303030" stroke-width="0.9"/>
<text x="30.30" y="329.55" text-anchor="end" font-size="7.3" letter-spacing="-0.25">-0.75</text>
<line x1="32.30" y1="345.60" x2="34.50" y2="345.60" stroke="#303030" stroke-width="0.9"/>
<text x="30.30" y="348.05" text-anchor="end" font-size="7.3" letter-spacing="-0.25">-1</text>
<text x="46.60" y="357.70" font-size="7.2" textLength="22.6" lengthAdjust="spacingAndGlyphs">sagittal</text>
<text x="109.80" y="357.70" font-size="7.2" textLength="20.4" lengthAdjust="spacingAndGlyphs">frontal</text>
<text x="165.80" y="357.70" font-size="7.2" textLength="31.4" lengthAdjust="spacingAndGlyphs">transverse</text>
<text x="231.30" y="357.70" font-size="7.2" textLength="22.6" lengthAdjust="spacingAndGlyphs">sagittal</text>
<text x="293.80" y="357.70" font-size="7.2" textLength="20.4" lengthAdjust="spacingAndGlyphs">frontal</text>
<text x="349.90" y="357.70" font-size="7.2" textLength="31.4" lengthAdjust="spacingAndGlyphs">transverse</text>
<text transform="translate(8.80,271.80) rotate(-90)" x="-32.7" y="0" font-size="7.2" fill="#686868" textLength="65.4" lengthAdjust="spacingAndGlyphs">correlation coefficient</text>
<text x="185.90" y="190.70" font-size="7.8" textLength="48.60" lengthAdjust="spacingAndGlyphs">knee joint angle</text>
<line x1="259.30" y1="188.60" x2="268.75" y2="188.60" stroke="#0000ff" stroke-width="1.4" stroke-opacity="0.75"/>
<text x="269.60" y="191.50" font-size="7.4" textLength="14.00" lengthAdjust="spacingAndGlyphs">PTS</text>
<line x1="287.00" y1="188.60" x2="295.90" y2="188.60" stroke="#000000" stroke-width="1.4" stroke-opacity="0.75"/>
<text x="296.80" y="191.50" font-size="7.4" textLength="10.00" lengthAdjust="spacingAndGlyphs">PT</text>
<line x1="313.10" y1="188.60" x2="322.60" y2="188.60" stroke="#ff0000" stroke-width="1.4" stroke-opacity="0.75"/>
<text x="323.60" y="191.50" font-size="7.4" textLength="8.80" lengthAdjust="spacingAndGlyphs">PS</text>
<line x1="341.00" y1="188.60" x2="349.70" y2="188.60" stroke="#ffa500" stroke-width="1.4" stroke-opacity="0.75"/>
<text x="350.80" y="191.50" font-size="7.4" textLength="4.60" lengthAdjust="spacingAndGlyphs">P</text>
<line x1="362.30" y1="188.60" x2="371.70" y2="188.60" stroke="#1fae1f" stroke-width="1.4" stroke-opacity="0.75"/>
<text x="372.10" y="191.50" font-size="7.4" textLength="14.30" lengthAdjust="spacingAndGlyphs">PCA</text>
<path d="M46.00,385.10 46.41,385.60 46.62,386.10 46.72,386.60 46.78,387.10 46.80,387.60 46.72,388.10 46.58,388.60 46.38,389.10 46.13,389.60 45.71,390.10 45.27,390.60 44.95,391.10 44.73,391.60 44.54,392.10 44.39,392.60 44.28,393.10 44.20,393.60 44.13,394.10 44.08,394.60 44.03,395.10 43.98,395.60 43.94,396.10 43.90,396.60 43.86,397.10 43.83,397.60 43.79,398.10 43.76,398.60 43.74,399.10 43.71,399.60 43.70,400.00 L42.50,400.00 42.49,399.60 42.46,399.10 42.44,398.60 42.41,398.10 42.37,397.60 42.34,397.10 42.30,396.60 42.26,396.10 42.22,395.60 42.17,395.10 42.12,394.60 42.07,394.10 42.00,393.60 41.92,393.10 41.81,392.60 41.66,392.10 41.47,391.60 41.25,391.10 40.93,390.60 40.49,390.10 40.07,389.60 39.82,389.10 39.62,388.60 39.48,388.10 39.40,387.60 39.42,387.10 39.48,386.60 39.58,386.10 39.79,385.60 40.20,385.10 Z" fill="#0000ff" fill-opacity="0.54"/>
<path d="M42.35,390.80 L43.85,390.80 L43.59,426.60 L42.61,426.60 Z" fill="url(#g60)"/>
<line x1="41.00" y1="390.20" x2="45.20" y2="390.20" stroke="#0000ff" stroke-width="1.2"/>
<path d="M54.20,385.10 54.38,385.60 54.38,386.10 54.30,386.60 54.17,387.10 54.02,387.60 53.87,388.10 53.72,388.60 53.54,389.10 53.36,389.60 53.18,390.10 53.01,390.60 52.87,391.10 52.75,391.60 52.63,392.10 52.52,392.60 52.42,393.10 52.32,393.60 52.24,394.10 52.16,394.60 52.09,395.10 52.02,395.60 51.96,396.10 51.91,396.60 51.86,397.10 51.81,397.60 51.77,398.10 51.73,398.60 51.69,399.10 51.66,399.60 51.63,400.10 51.60,400.60 51.57,401.10 51.55,401.60 51.53,402.10 51.51,402.60 51.50,403.00 L50.30,403.00 50.29,402.60 50.27,402.10 50.25,401.60 50.23,401.10 50.20,400.60 50.17,400.10 50.14,399.60 50.11,399.10 50.07,398.60 50.03,398.10 49.99,397.60 49.94,397.10 49.89,396.60 49.84,396.10 49.78,395.60 49.71,395.10 49.64,394.60 49.56,394.10 49.48,393.60 49.38,393.10 49.28,392.60 49.17,392.10 49.05,391.60 48.93,391.10 48.79,390.60 48.62,390.10 48.44,389.60 48.26,389.10 48.08,388.60 47.93,388.10 47.78,387.60 47.63,387.10 47.50,386.60 47.42,386.10 47.42,385.60 47.60,385.10 Z" fill="#000000" fill-opacity="0.54"/>
<path d="M50.15,391.40 L51.65,391.40 L51.39,430.50 L50.41,430.50 Z" fill="url(#g61)"/>
<line x1="48.80" y1="390.80" x2="53.00" y2="390.80" stroke="#000000" stroke-width="1.2"/>
<path d="M62.30,385.10 62.63,385.60 62.75,386.10 62.71,386.60 62.62,387.10 62.51,387.60 62.37,388.10 62.09,388.60 61.70,389.10 61.32,389.60 61.06,390.10 60.88,390.60 60.72,391.10 60.58,391.60 60.46,392.10 60.37,392.60 60.29,393.10 60.21,393.60 60.14,394.10 60.08,394.60 60.02,395.10 59.97,395.60 59.93,396.10 59.91,396.60 59.90,397.00 L58.50,397.00 58.49,396.60 58.47,396.10 58.43,395.60 58.38,395.10 58.32,394.60 58.26,394.10 58.19,393.60 58.11,393.10 58.03,392.60 57.94,392.10 57.82,391.60 57.68,391.10 57.52,390.60 57.34,390.10 57.08,389.60 56.70,389.10 56.31,388.60 56.03,388.10 55.89,387.60 55.78,387.10 55.69,386.60 55.65,386.10 55.77,385.60 56.10,385.10 Z" fill="#ff0000" fill-opacity="0.54"/>
<path d="M58.45,390.20 L59.95,390.20 L59.69,428.40 L58.71,428.40 Z" fill="url(#g62)"/>
<line x1="57.10" y1="389.60" x2="61.30" y2="389.60" stroke="#ff0000" stroke-width="1.2"/>
<path d="M69.70,385.10 70.03,385.60 70.27,386.10 70.39,386.60 70.48,387.10 70.55,387.60 70.59,388.10 70.60,388.60 70.59,389.10 70.56,389.60 70.53,390.10 70.48,390.60 70.42,391.10 70.36,391.60 70.28,392.10 70.15,392.60 69.95,393.10 69.70,393.60 69.44,394.10 69.18,394.60 68.96,395.10 68.73,395.60 68.50,396.10 68.31,396.60 68.18,397.10 68.08,397.60 67.99,398.10 67.91,398.60 67.85,399.10 67.81,399.60 67.80,400.00 L66.20,400.00 66.19,399.60 66.15,399.10 66.09,398.60 66.01,398.10 65.92,397.60 65.82,397.10 65.69,396.60 65.50,396.10 65.27,395.60 65.04,395.10 64.82,394.60 64.56,394.10 64.30,393.60 64.05,393.10 63.85,392.60 63.72,392.10 63.64,391.60 63.58,391.10 63.52,390.60 63.47,390.10 63.44,389.60 63.41,389.10 63.40,388.60 63.41,388.10 63.45,387.60 63.52,387.10 63.61,386.60 63.73,386.10 63.97,385.60 64.30,385.10 Z" fill="#ffa500" fill-opacity="0.54"/>
<path d="M66.25,393.00 L67.75,393.00 L67.49,426.00 L66.51,426.00 Z" fill="url(#g63)"/>
<line x1="64.90" y1="392.40" x2="69.10" y2="392.40" stroke="#ffa500" stroke-width="1.2"/>
<path d="M77.90,385.10 78.22,385.60 78.49,386.10 78.68,386.60 78.82,387.10 78.94,387.60 79.04,388.10 79.13,388.60 79.21,389.10 79.26,389.60 79.31,390.10 79.35,390.60 79.38,391.10 79.41,391.60 79.43,392.10 79.45,392.60 79.45,393.10 79.43,393.60 79.40,394.10 79.35,394.60 79.29,395.10 79.22,395.60 79.14,396.10 79.06,396.60 78.98,397.10 78.88,397.60 78.76,398.10 78.62,398.60 78.46,399.10 78.30,399.60 78.14,400.10 77.98,400.60 77.83,401.10 77.70,401.60 77.58,402.10 77.47,402.60 77.36,403.10 77.26,403.60 77.18,404.10 77.11,404.60 77.05,405.10 77.00,405.60 76.95,406.10 76.91,406.60 76.87,407.10 76.83,407.60 76.79,408.10 76.76,408.60 76.73,409.10 76.70,409.60 76.68,410.10 76.65,410.60 76.63,411.10 76.60,411.60 76.58,412.10 76.55,412.60 76.53,413.10 76.51,413.60 76.48,414.10 76.46,414.60 76.44,415.10 76.42,415.60 76.40,416.00 L75.20,416.00 75.18,415.60 75.16,415.10 75.14,414.60 75.12,414.10 75.09,413.60 75.07,413.10 75.05,412.60 75.02,412.10 75.00,411.60 74.97,411.10 74.95,410.60 74.92,410.10 74.90,409.60 74.87,409.10 74.84,408.60 74.81,408.10 74.77,407.60 74.73,407.10 74.69,406.60 74.65,406.10 74.60,405.60 74.55,405.10 74.49,404.60 74.42,404.10 74.34,403.60 74.24,403.10 74.13,402.60 74.02,402.10 73.90,401.60 73.77,401.10 73.62,400.60 73.46,400.10 73.30,399.60 73.14,399.10 72.98,398.60 72.84,398.10 72.72,397.60 72.62,397.10 72.54,396.60 72.46,396.10 72.38,395.60 72.31,395.10 72.25,394.60 72.20,394.10 72.17,393.60 72.15,393.10 72.15,392.60 72.17,392.10 72.19,391.60 72.22,391.10 72.25,390.60 72.29,390.10 72.34,389.60 72.39,389.10 72.47,388.60 72.56,388.10 72.66,387.60 72.78,387.10 72.92,386.60 73.11,386.10 73.38,385.60 73.70,385.10 Z" fill="#12a012" fill-opacity="0.54"/>
<path d="M75.10,404.80 L76.50,404.80 L76.25,503.40 L75.34,503.40 Z" fill="url(#g64)"/>
<line x1="73.80" y1="404.20" x2="77.80" y2="404.20" stroke="#1fae1f" stroke-width="1.2"/>
<path d="M106.30,384.80 106.79,385.30 106.89,385.80 106.84,386.30 106.74,386.80 106.60,387.30 106.32,387.80 105.98,388.30 105.63,388.80 105.25,389.30 104.90,389.80 104.61,390.30 104.40,390.80 104.26,391.30 104.15,391.80 104.10,392.30 L102.70,392.30 102.65,391.80 102.54,391.30 102.40,390.80 102.19,390.30 101.90,389.80 101.55,389.30 101.17,388.80 100.82,388.30 100.48,387.80 100.20,387.30 100.06,386.80 99.96,386.30 99.91,385.80 100.01,385.30 100.50,384.80 Z" fill="#0000ff" fill-opacity="0.54"/>
<path d="M102.80,392.00 L104.00,392.00 L103.79,529.80 L103.01,529.80 Z" fill="url(#g65)"/>
<line x1="101.65" y1="388.70" x2="105.15" y2="388.70" stroke="#0000ff" stroke-width="1.2"/>
<path d="M114.20,384.80 114.69,385.30 114.79,385.80 114.74,386.30 114.64,386.80 114.52,387.30 114.34,387.80 114.10,388.30 113.83,388.80 113.54,389.30 113.16,389.80 112.80,390.30 112.51,390.80 112.30,391.30 112.16,391.80 112.05,392.30 112.00,392.80 L110.60,392.80 110.55,392.30 110.44,391.80 110.30,391.30 110.09,390.80 109.80,390.30 109.44,389.80 109.06,389.30 108.77,388.80 108.50,388.30 108.26,387.80 108.08,387.30 107.96,386.80 107.86,386.30 107.81,385.80 107.91,385.30 108.40,384.80 Z" fill="#000000" fill-opacity="0.54"/>
<path d="M110.70,392.50 L111.90,392.50 L111.69,513.90 L110.91,513.90 Z" fill="url(#g66)"/>
<line x1="109.55" y1="389.20" x2="113.05" y2="389.20" stroke="#000000" stroke-width="1.2"/>
<path d="M122.10,384.80 122.59,385.30 122.69,385.80 122.64,386.30 122.55,386.80 122.36,387.30 121.94,387.80 121.50,388.30 121.12,388.80 120.76,389.30 120.47,389.80 120.23,390.30 120.09,390.80 119.97,391.30 119.90,391.80 119.90,391.90 L118.50,391.90 118.50,391.80 118.43,391.30 118.31,390.80 118.17,390.30 117.93,389.80 117.64,389.30 117.28,388.80 116.90,388.30 116.46,387.80 116.04,387.30 115.85,386.80 115.76,386.30 115.71,385.80 115.81,385.30 116.30,384.80 Z" fill="#ff0000" fill-opacity="0.54"/>
<path d="M118.60,391.60 L119.80,391.60 L119.59,528.90 L118.81,528.90 Z" fill="url(#g67)"/>
<line x1="117.45" y1="388.30" x2="120.95" y2="388.30" stroke="#ff0000" stroke-width="1.2"/>
<path d="M130.50,384.80 130.99,385.30 131.09,385.80 131.03,386.30 130.94,386.80 130.83,387.30 130.69,387.80 130.51,388.30 130.29,388.80 130.05,389.30 129.78,389.80 129.39,390.30 129.04,390.80 128.76,391.30 128.57,391.80 128.43,392.30 128.33,392.80 128.30,393.20 L126.90,393.20 126.87,392.80 126.77,392.30 126.63,391.80 126.44,391.30 126.16,390.80 125.81,390.30 125.42,389.80 125.15,389.30 124.91,388.80 124.69,388.30 124.51,387.80 124.37,387.30 124.26,386.80 124.17,386.30 124.11,385.80 124.21,385.30 124.70,384.80 Z" fill="#ffa500" fill-opacity="0.54"/>
<path d="M127.00,392.90 L128.20,392.90 L127.99,524.40 L127.21,524.40 Z" fill="url(#g68)"/>
<line x1="125.85" y1="389.60" x2="129.35" y2="389.60" stroke="#ffa500" stroke-width="1.2"/>
<path d="M138.90,384.80 139.36,385.30 139.52,385.80 139.57,386.30 139.59,386.80 139.60,387.30 139.52,387.80 139.37,388.30 139.18,388.80 138.94,389.30 138.58,389.80 138.20,390.30 137.82,390.80 137.50,391.30 137.30,391.80 137.14,392.30 137.04,392.80 136.96,393.30 136.91,393.80 136.90,394.00 L135.50,394.00 135.49,393.80 135.44,393.30 135.36,392.80 135.26,392.30 135.10,391.80 134.90,391.30 134.58,390.80 134.20,390.30 133.82,389.80 133.46,389.30 133.22,388.80 133.03,388.30 132.88,387.80 132.80,387.30 132.81,386.80 132.83,386.30 132.88,385.80 133.04,385.30 133.50,384.80 Z" fill="#12a012" fill-opacity="0.54"/>
<path d="M135.60,393.70 L136.80,393.70 L136.59,522.90 L135.81,522.90 Z" fill="url(#g69)"/>
<line x1="134.45" y1="390.80" x2="137.95" y2="390.80" stroke="#1fae1f" stroke-width="1.2"/>
<path d="M166.80,384.90 166.95,385.40 166.85,385.90 166.66,386.40 166.44,386.90 166.22,387.40 165.96,387.90 165.67,388.40 165.38,388.90 165.07,389.40 164.74,389.90 164.54,390.40 164.41,390.90 164.32,391.40 164.23,391.90 164.16,392.40 164.11,392.90 164.10,393.00 L162.70,393.00 162.69,392.90 162.64,392.40 162.57,391.90 162.48,391.40 162.39,390.90 162.26,390.40 162.06,389.90 161.73,389.40 161.42,388.90 161.13,388.40 160.84,387.90 160.58,387.40 160.36,386.90 160.14,386.40 159.95,385.90 159.85,385.40 160.00,384.90 Z" fill="#0000ff" fill-opacity="0.54"/>
<path d="M162.80,392.70 L164.00,392.70 L163.79,523.80 L163.01,523.80 Z" fill="url(#g70)"/>
<line x1="161.65" y1="389.20" x2="165.15" y2="389.20" stroke="#0000ff" stroke-width="1.2"/>
<path d="M175.00,384.90 175.15,385.40 175.04,385.90 174.85,386.40 174.64,386.90 174.44,387.40 174.23,387.90 174.00,388.40 173.76,388.90 173.51,389.40 173.21,389.90 172.89,390.40 172.71,390.90 172.59,391.40 172.50,391.90 172.42,392.40 172.35,392.90 172.30,393.40 172.30,393.40 L170.90,393.40 170.90,393.40 170.85,392.90 170.78,392.40 170.70,391.90 170.61,391.40 170.49,390.90 170.31,390.40 169.99,389.90 169.69,389.40 169.44,388.90 169.20,388.40 168.97,387.90 168.76,387.40 168.56,386.90 168.35,386.40 168.16,385.90 168.05,385.40 168.20,384.90 Z" fill="#000000" fill-opacity="0.54"/>
<path d="M171.00,393.10 L172.20,393.10 L171.99,523.80 L171.21,523.80 Z" fill="url(#g71)"/>
<line x1="169.85" y1="389.60" x2="173.35" y2="389.60" stroke="#000000" stroke-width="1.2"/>
<path d="M183.20,384.90 183.35,385.40 183.25,385.90 183.06,386.40 182.84,386.90 182.60,387.40 182.28,387.90 181.93,388.40 181.60,388.90 181.27,389.40 181.00,389.90 180.86,390.40 180.75,390.90 180.67,391.40 180.59,391.90 180.53,392.40 180.50,392.70 L179.10,392.70 179.07,392.40 179.01,391.90 178.93,391.40 178.85,390.90 178.74,390.40 178.60,389.90 178.33,389.40 178.00,388.90 177.67,388.40 177.32,387.90 177.00,387.40 176.76,386.90 176.54,386.40 176.35,385.90 176.25,385.40 176.40,384.90 Z" fill="#ff0000" fill-opacity="0.54"/>
<path d="M179.20,392.40 L180.40,392.40 L180.19,524.70 L179.41,524.70 Z" fill="url(#g72)"/>
<line x1="178.05" y1="388.90" x2="181.55" y2="388.90" stroke="#ff0000" stroke-width="1.2"/>
<path d="M191.40,384.90 191.55,385.40 191.45,385.90 191.26,386.40 191.04,386.90 190.82,387.40 190.56,387.90 190.27,388.40 189.98,388.90 189.67,389.40 189.34,389.90 189.14,390.40 189.01,390.90 188.92,391.40 188.83,391.90 188.76,392.40 188.71,392.90 188.70,393.00 L187.30,393.00 187.29,392.90 187.24,392.40 187.17,391.90 187.08,391.40 186.99,390.90 186.86,390.40 186.66,389.90 186.33,389.40 186.02,388.90 185.73,388.40 185.44,387.90 185.18,387.40 184.96,386.90 184.74,386.40 184.55,385.90 184.45,385.40 184.60,384.90 Z" fill="#ffa500" fill-opacity="0.54"/>
<path d="M187.40,392.70 L188.60,392.70 L188.39,523.80 L187.61,523.80 Z" fill="url(#g73)"/>
<line x1="186.25" y1="389.20" x2="189.75" y2="389.20" stroke="#ffa500" stroke-width="1.2"/>
<path d="M199.60,384.90 199.75,385.40 199.64,385.90 199.44,386.40 199.24,386.90 199.06,387.40 198.90,387.90 198.72,388.40 198.55,388.90 198.35,389.40 198.14,389.90 197.89,390.40 197.55,390.90 197.34,391.40 197.21,391.90 197.12,392.40 197.03,392.90 196.96,393.40 196.91,393.90 196.90,394.00 L195.50,394.00 195.49,393.90 195.44,393.40 195.37,392.90 195.28,392.40 195.19,391.90 195.06,391.40 194.85,390.90 194.51,390.40 194.26,389.90 194.05,389.40 193.85,388.90 193.68,388.40 193.50,387.90 193.34,387.40 193.16,386.90 192.96,386.40 192.76,385.90 192.65,385.40 192.80,384.90 Z" fill="#12a012" fill-opacity="0.54"/>
<path d="M195.60,393.70 L196.80,393.70 L196.59,522.30 L195.81,522.30 Z" fill="url(#g74)"/>
<line x1="194.45" y1="390.20" x2="197.95" y2="390.20" stroke="#1fae1f" stroke-width="1.2"/>
<path d="M228.80,384.90 229.18,385.40 229.13,385.90 228.90,386.40 228.64,386.90 228.42,387.40 228.18,387.90 227.93,388.40 227.69,388.90 227.47,389.40 227.29,389.90 227.12,390.40 226.95,390.90 226.82,391.40 226.72,391.90 226.65,392.40 226.59,392.90 226.54,393.40 226.50,393.90 226.46,394.40 226.43,394.90 226.39,395.40 226.36,395.90 226.32,396.40 226.28,396.90 226.25,397.40 226.22,397.90 226.19,398.40 226.16,398.90 226.15,399.00 L225.05,399.00 225.04,398.90 225.01,398.40 224.98,397.90 224.95,397.40 224.92,396.90 224.88,396.40 224.84,395.90 224.81,395.40 224.77,394.90 224.74,394.40 224.70,393.90 224.66,393.40 224.61,392.90 224.55,392.40 224.48,391.90 224.38,391.40 224.25,390.90 224.08,390.40 223.91,389.90 223.73,389.40 223.51,388.90 223.27,388.40 223.02,387.90 222.78,387.40 222.56,386.90 222.30,386.40 222.07,385.90 222.02,385.40 222.40,384.90 Z" fill="#0000ff" fill-opacity="0.54"/>
<path d="M224.95,398.70 L226.25,398.70 L226.02,428.50 L225.18,428.50 Z" fill="url(#g75)"/>
<line x1="223.60" y1="389.60" x2="227.60" y2="389.60" stroke="#0000ff" stroke-width="1.2"/>
<path d="M236.50,384.90 236.79,385.40 236.75,385.90 236.59,386.40 236.36,386.90 236.14,387.40 235.94,387.90 235.72,388.40 235.50,388.90 235.28,389.40 235.09,389.90 234.94,390.40 234.81,390.90 234.69,391.40 234.58,391.90 234.49,392.40 234.41,392.90 234.35,393.40 234.30,393.90 234.25,394.40 234.21,394.90 234.17,395.40 234.13,395.90 234.09,396.40 234.06,396.90 234.02,397.40 233.99,397.90 233.95,398.40 233.92,398.90 233.89,399.40 233.86,399.90 233.83,400.40 233.81,400.90 233.80,401.00 L232.60,401.00 232.59,400.90 232.57,400.40 232.54,399.90 232.51,399.40 232.48,398.90 232.45,398.40 232.41,397.90 232.38,397.40 232.34,396.90 232.31,396.40 232.27,395.90 232.23,395.40 232.19,394.90 232.15,394.40 232.10,393.90 232.05,393.40 231.99,392.90 231.91,392.40 231.82,391.90 231.71,391.40 231.59,390.90 231.46,390.40 231.31,389.90 231.12,389.40 230.90,388.90 230.68,388.40 230.46,387.90 230.26,387.40 230.04,386.90 229.81,386.40 229.65,385.90 229.61,385.40 229.90,384.90 Z" fill="#000000" fill-opacity="0.54"/>
<path d="M232.55,400.70 L233.85,400.70 L233.62,457.70 L232.78,457.70 Z" fill="url(#g76)"/>
<line x1="231.20" y1="390.20" x2="235.20" y2="390.20" stroke="#000000" stroke-width="1.2"/>
<path d="M244.60,384.90 244.94,385.40 244.87,385.90 244.63,386.40 244.35,386.90 244.09,387.40 243.79,387.90 243.49,388.40 243.22,388.90 243.03,389.40 242.87,389.90 242.73,390.40 242.61,390.90 242.52,391.40 242.44,391.90 242.36,392.40 242.30,392.90 242.24,393.40 242.19,393.90 242.15,394.40 242.11,394.90 242.07,395.40 242.04,395.90 242.01,396.40 241.99,396.90 241.97,397.40 241.95,397.90 241.95,398.00 L240.85,398.00 240.85,397.90 240.83,397.40 240.81,396.90 240.79,396.40 240.76,395.90 240.73,395.40 240.69,394.90 240.65,394.40 240.61,393.90 240.56,393.40 240.50,392.90 240.44,392.40 240.36,391.90 240.28,391.40 240.19,390.90 240.07,390.40 239.93,389.90 239.77,389.40 239.58,388.90 239.31,388.40 239.01,387.90 238.71,387.40 238.45,386.90 238.17,386.40 237.93,385.90 237.86,385.40 238.20,384.90 Z" fill="#ff0000" fill-opacity="0.54"/>
<path d="M240.75,397.70 L242.05,397.70 L241.82,424.60 L240.98,424.60 Z" fill="url(#g77)"/>
<line x1="239.40" y1="389.20" x2="243.40" y2="389.20" stroke="#ff0000" stroke-width="1.2"/>
<path d="M252.40,384.80 252.92,385.30 253.15,385.80 253.26,386.30 253.33,386.80 253.35,387.30 253.31,387.80 253.22,388.30 253.10,388.80 252.96,389.30 252.80,389.80 252.59,390.30 252.37,390.80 252.16,391.30 252.02,391.80 251.90,392.30 251.80,392.80 251.70,393.30 251.60,393.80 251.49,394.30 251.36,394.80 251.24,395.30 251.12,395.80 251.02,396.30 250.93,396.80 250.86,397.30 250.79,397.80 250.73,398.30 250.67,398.80 250.62,399.30 250.57,399.80 250.52,400.30 250.49,400.80 250.46,401.30 250.45,401.80 L249.15,401.80 249.14,401.30 249.11,400.80 249.08,400.30 249.03,399.80 248.98,399.30 248.93,398.80 248.87,398.30 248.81,397.80 248.74,397.30 248.67,396.80 248.58,396.30 248.48,395.80 248.36,395.30 248.24,394.80 248.11,394.30 248.00,393.80 247.90,393.30 247.80,392.80 247.70,392.30 247.58,391.80 247.44,391.30 247.23,390.80 247.01,390.30 246.80,389.80 246.64,389.30 246.50,388.80 246.38,388.30 246.29,387.80 246.25,387.30 246.27,386.80 246.34,386.30 246.45,385.80 246.68,385.30 247.20,384.80 Z" fill="#ffa500" fill-opacity="0.54"/>
<path d="M249.15,401.50 L250.45,401.50 L250.22,455.60 L249.38,455.60 Z" fill="url(#g78)"/>
<line x1="248.05" y1="393.80" x2="251.55" y2="393.80" stroke="#ffa500" stroke-width="1.2"/>
<path d="M260.00,385.10 260.32,385.60 260.59,386.10 260.78,386.60 260.92,387.10 261.04,387.60 261.14,388.10 261.23,388.60 261.31,389.10 261.36,389.60 261.41,390.10 261.45,390.60 261.48,391.10 261.51,391.60 261.53,392.10 261.55,392.60 261.55,393.10 261.53,393.60 261.50,394.10 261.45,394.60 261.39,395.10 261.32,395.60 261.24,396.10 261.16,396.60 261.08,397.10 260.98,397.60 260.86,398.10 260.72,398.60 260.56,399.10 260.40,399.60 260.24,400.10 260.08,400.60 259.93,401.10 259.80,401.60 259.68,402.10 259.57,402.60 259.46,403.10 259.36,403.60 259.28,404.10 259.21,404.60 259.15,405.10 259.10,405.60 259.05,406.10 259.01,406.60 258.97,407.10 258.93,407.60 258.89,408.10 258.86,408.60 258.83,409.10 258.80,409.60 258.78,410.10 258.75,410.60 258.73,411.10 258.70,411.60 258.68,412.10 258.65,412.60 258.63,413.10 258.61,413.60 258.58,414.10 258.56,414.60 258.54,415.10 258.52,415.60 258.50,416.00 L257.30,416.00 257.28,415.60 257.26,415.10 257.24,414.60 257.22,414.10 257.19,413.60 257.17,413.10 257.15,412.60 257.12,412.10 257.10,411.60 257.07,411.10 257.05,410.60 257.02,410.10 257.00,409.60 256.97,409.10 256.94,408.60 256.91,408.10 256.87,407.60 256.83,407.10 256.79,406.60 256.75,406.10 256.70,405.60 256.65,405.10 256.59,404.60 256.52,404.10 256.44,403.60 256.34,403.10 256.23,402.60 256.12,402.10 256.00,401.60 255.87,401.10 255.72,400.60 255.56,400.10 255.40,399.60 255.24,399.10 255.08,398.60 254.94,398.10 254.82,397.60 254.72,397.10 254.64,396.60 254.56,396.10 254.48,395.60 254.41,395.10 254.35,394.60 254.30,394.10 254.27,393.60 254.25,393.10 254.25,392.60 254.27,392.10 254.29,391.60 254.32,391.10 254.35,390.60 254.39,390.10 254.44,389.60 254.49,389.10 254.57,388.60 254.66,388.10 254.76,387.60 254.88,387.10 255.02,386.60 255.21,386.10 255.48,385.60 255.80,385.10 Z" fill="#12a012" fill-opacity="0.54"/>
<path d="M257.25,415.70 L258.55,415.70 L258.32,508.80 L257.48,508.80 Z" fill="url(#g79)"/>
<line x1="255.90" y1="404.20" x2="259.90" y2="404.20" stroke="#1fae1f" stroke-width="1.2"/>
<path d="M289.95,385.10 290.06,385.60 289.21,386.10 288.49,386.60 288.04,387.10 287.75,387.60 287.59,388.10 287.47,388.60 287.39,389.10 287.32,389.60 287.26,390.10 287.21,390.60 287.20,391.00 L286.00,391.00 285.99,390.60 285.94,390.10 285.88,389.60 285.81,389.10 285.73,388.60 285.61,388.10 285.45,387.60 285.16,387.10 284.71,386.60 283.99,386.10 283.14,385.60 283.25,385.10 Z" fill="#0000ff" fill-opacity="0.54"/>
<path d="M286.00,390.70 L287.20,390.70 L286.99,451.60 L286.21,451.60 Z" fill="url(#g80)"/>
<line x1="284.85" y1="386.40" x2="288.35" y2="386.40" stroke="#0000ff" stroke-width="1.2"/>
<path d="M297.95,385.10 298.06,385.60 297.21,386.10 296.49,386.60 296.04,387.10 295.75,387.60 295.59,388.10 295.47,388.60 295.39,389.10 295.32,389.60 295.26,390.10 295.21,390.60 295.20,391.00 L294.00,391.00 293.99,390.60 293.94,390.10 293.88,389.60 293.81,389.10 293.73,388.60 293.61,388.10 293.45,387.60 293.16,387.10 292.71,386.60 291.99,386.10 291.14,385.60 291.25,385.10 Z" fill="#000000" fill-opacity="0.54"/>
<path d="M294.00,390.70 L295.20,390.70 L294.99,456.20 L294.21,456.20 Z" fill="url(#g81)"/>
<line x1="292.85" y1="386.40" x2="296.35" y2="386.40" stroke="#000000" stroke-width="1.2"/>
<path d="M305.95,385.10 306.06,385.60 305.21,386.10 304.49,386.60 304.04,387.10 303.75,387.60 303.59,388.10 303.47,388.60 303.39,389.10 303.32,389.60 303.26,390.10 303.21,390.60 303.20,391.00 L302.00,391.00 301.99,390.60 301.94,390.10 301.88,389.60 301.81,389.10 301.73,388.60 301.61,388.10 301.45,387.60 301.16,387.10 300.71,386.60 299.99,386.10 299.14,385.60 299.25,385.10 Z" fill="#ff0000" fill-opacity="0.54"/>
<path d="M302.00,390.70 L303.20,390.70 L302.99,456.80 L302.21,456.80 Z" fill="url(#g82)"/>
<line x1="300.85" y1="386.40" x2="304.35" y2="386.40" stroke="#ff0000" stroke-width="1.2"/>
<path d="M314.25,385.10 314.39,385.60 314.03,386.10 313.43,386.60 312.91,387.10 312.45,387.60 312.09,388.10 311.91,388.60 311.79,389.10 311.70,389.60 311.63,390.10 311.57,390.60 311.52,391.10 311.50,391.60 L310.30,391.60 310.28,391.10 310.23,390.60 310.17,390.10 310.10,389.60 310.01,389.10 309.89,388.60 309.71,388.10 309.35,387.60 308.89,387.10 308.37,386.60 307.77,386.10 307.41,385.60 307.55,385.10 Z" fill="#ffa500" fill-opacity="0.54"/>
<path d="M310.30,391.30 L311.50,391.30 L311.29,455.60 L310.51,455.60 Z" fill="url(#g83)"/>
<line x1="309.15" y1="387.00" x2="312.65" y2="387.00" stroke="#ffa500" stroke-width="1.2"/>
<path d="M322.85,385.10 322.99,385.60 322.83,386.10 322.50,386.60 322.08,387.10 321.67,387.60 321.26,388.10 320.82,388.60 320.58,389.10 320.43,389.60 320.33,390.10 320.26,390.60 320.19,391.10 320.14,391.60 320.10,392.10 320.10,392.30 L318.90,392.30 318.90,392.10 318.86,391.60 318.81,391.10 318.74,390.60 318.67,390.10 318.57,389.60 318.42,389.10 318.18,388.60 317.74,388.10 317.33,387.60 316.92,387.10 316.50,386.60 316.17,386.10 316.01,385.60 316.15,385.10 Z" fill="#12a012" fill-opacity="0.54"/>
<path d="M318.90,392.00 L320.10,392.00 L319.89,463.70 L319.11,463.70 Z" fill="url(#g84)"/>
<line x1="317.75" y1="387.70" x2="321.25" y2="387.70" stroke="#1fae1f" stroke-width="1.2"/>
<path d="M351.75,384.80 351.89,385.30 351.61,385.80 351.10,386.30 350.59,386.80 350.14,387.30 349.72,387.80 349.48,388.30 349.33,388.80 349.23,389.30 349.16,389.80 349.09,390.30 349.04,390.80 349.00,391.30 349.00,391.50 L347.80,391.50 347.80,391.30 347.76,390.80 347.71,390.30 347.64,389.80 347.57,389.30 347.47,388.80 347.32,388.30 347.08,387.80 346.66,387.30 346.21,386.80 345.70,386.30 345.19,385.80 344.91,385.30 345.05,384.80 Z" fill="#0000ff" fill-opacity="0.54"/>
<path d="M347.80,391.20 L349.00,391.20 L348.79,510.00 L348.01,510.00 Z" fill="url(#g85)"/>
<line x1="346.65" y1="386.90" x2="350.15" y2="386.90" stroke="#0000ff" stroke-width="1.2"/>
<path d="M359.65,384.80 359.80,385.30 359.64,385.80 359.34,386.30 358.95,386.80 358.55,387.30 358.16,387.80 357.70,388.30 357.41,388.80 357.26,389.30 357.15,389.80 357.07,390.30 357.00,390.80 356.95,391.30 356.91,391.80 356.90,392.10 L355.70,392.10 355.69,391.80 355.65,391.30 355.60,390.80 355.53,390.30 355.45,389.80 355.34,389.30 355.19,388.80 354.90,388.30 354.44,387.80 354.05,387.30 353.65,386.80 353.26,386.30 352.96,385.80 352.80,385.30 352.95,384.80 Z" fill="#000000" fill-opacity="0.54"/>
<path d="M355.70,391.80 L356.90,391.80 L356.69,516.60 L355.91,516.60 Z" fill="url(#g86)"/>
<line x1="354.55" y1="387.50" x2="358.05" y2="387.50" stroke="#000000" stroke-width="1.2"/>
<path d="M367.65,384.80 367.79,385.30 367.51,385.80 367.00,386.30 366.49,386.80 366.04,387.30 365.62,387.80 365.38,388.30 365.23,388.80 365.13,389.30 365.06,389.80 364.99,390.30 364.94,390.80 364.90,391.30 364.90,391.50 L363.70,391.50 363.70,391.30 363.66,390.80 363.61,390.30 363.54,389.80 363.47,389.30 363.37,388.80 363.22,388.30 362.98,387.80 362.56,387.30 362.11,386.80 361.60,386.30 361.09,385.80 360.81,385.30 360.95,384.80 Z" fill="#ff0000" fill-opacity="0.54"/>
<path d="M363.70,391.20 L364.90,391.20 L364.69,502.50 L363.91,502.50 Z" fill="url(#g87)"/>
<line x1="362.55" y1="386.90" x2="366.05" y2="386.90" stroke="#ff0000" stroke-width="1.2"/>
<path d="M375.95,384.80 376.10,385.30 375.94,385.80 375.64,386.30 375.25,386.80 374.85,387.30 374.46,387.80 374.00,388.30 373.71,388.80 373.56,389.30 373.45,389.80 373.37,390.30 373.30,390.80 373.25,391.30 373.21,391.80 373.20,392.10 L372.00,392.10 371.99,391.80 371.95,391.30 371.90,390.80 371.83,390.30 371.75,389.80 371.64,389.30 371.49,388.80 371.20,388.30 370.74,387.80 370.35,387.30 369.95,386.80 369.56,386.30 369.26,385.80 369.10,385.30 369.25,384.80 Z" fill="#ffa500" fill-opacity="0.54"/>
<path d="M372.00,391.80 L373.20,391.80 L372.99,513.00 L372.21,513.00 Z" fill="url(#g88)"/>
<line x1="370.85" y1="387.50" x2="374.35" y2="387.50" stroke="#ffa500" stroke-width="1.2"/>
<path d="M384.15,384.80 384.30,385.30 384.23,385.80 384.08,386.30 383.86,386.80 383.60,387.30 383.31,387.80 383.02,388.30 382.68,388.80 382.21,389.30 381.91,389.80 381.76,390.30 381.65,390.80 381.57,391.30 381.50,391.80 381.45,392.30 381.41,392.80 381.40,393.10 L380.20,393.10 380.19,392.80 380.15,392.30 380.10,391.80 380.03,391.30 379.95,390.80 379.84,390.30 379.69,389.80 379.39,389.30 378.92,388.80 378.58,388.30 378.29,387.80 378.00,387.30 377.74,386.80 377.52,386.30 377.37,385.80 377.30,385.30 377.45,384.80 Z" fill="#12a012" fill-opacity="0.54"/>
<path d="M380.20,392.80 L381.40,392.80 L381.19,507.00 L380.41,507.00 Z" fill="url(#g89)"/>
<line x1="379.05" y1="388.50" x2="382.55" y2="388.50" stroke="#1fae1f" stroke-width="1.2"/>
<path d="M37.00,380.00 V537.70 H389.30" fill="none" stroke="#5a5a5a" stroke-width="1.4"/>
<line x1="34.80" y1="384.50" x2="37.00" y2="384.50" stroke="#303030" stroke-width="0.9"/>
<text x="32.80" y="386.95" text-anchor="end" font-size="7.3" letter-spacing="-0.25">1</text>
<line x1="34.80" y1="403.00" x2="37.00" y2="403.00" stroke="#303030" stroke-width="0.9"/>
<text x="32.80" y="405.45" text-anchor="end" font-size="7.3" letter-spacing="-0.25">0.75</text>
<line x1="34.80" y1="421.50" x2="37.00" y2="421.50" stroke="#303030" stroke-width="0.9"/>
<text x="32.80" y="423.95" text-anchor="end" font-size="7.3" letter-spacing="-0.25">0.5</text>
<line x1="34.80" y1="440.00" x2="37.00" y2="440.00" stroke="#303030" stroke-width="0.9"/>
<text x="32.80" y="442.45" text-anchor="end" font-size="7.3" letter-spacing="-0.25">0.25</text>
<line x1="34.80" y1="458.50" x2="37.00" y2="458.50" stroke="#303030" stroke-width="0.9"/>
<text x="32.80" y="460.95" text-anchor="end" font-size="7.3" letter-spacing="-0.25">0</text>
<line x1="34.80" y1="477.00" x2="37.00" y2="477.00" stroke="#303030" stroke-width="0.9"/>
<text x="32.80" y="479.45" text-anchor="end" font-size="7.3" letter-spacing="-0.25">-0.25</text>
<line x1="34.80" y1="495.50" x2="37.00" y2="495.50" stroke="#303030" stroke-width="0.9"/>
<text x="32.80" y="497.95" text-anchor="end" font-size="7.3" letter-spacing="-0.25">-0.5</text>
<line x1="34.80" y1="514.00" x2="37.00" y2="514.00" stroke="#303030" stroke-width="0.9"/>
<text x="32.80" y="516.45" text-anchor="end" font-size="7.3" letter-spacing="-0.25">-0.75</text>
<line x1="34.80" y1="532.50" x2="37.00" y2="532.50" stroke="#303030" stroke-width="0.9"/>
<text x="32.80" y="534.95" text-anchor="end" font-size="7.3" letter-spacing="-0.25">-1</text>
<text x="49.50" y="544.40" font-size="7.2" textLength="22.6" lengthAdjust="spacingAndGlyphs">sagittal</text>
<text x="112.10" y="544.40" font-size="7.2" textLength="20.4" lengthAdjust="spacingAndGlyphs">frontal</text>
<text x="168.10" y="544.40" font-size="7.2" textLength="31.4" lengthAdjust="spacingAndGlyphs">transverse</text>
<text x="234.80" y="544.40" font-size="7.2" textLength="22.6" lengthAdjust="spacingAndGlyphs">sagittal</text>
<text x="296.80" y="544.40" font-size="7.2" textLength="20.4" lengthAdjust="spacingAndGlyphs">frontal</text>
<text x="352.80" y="544.40" font-size="7.2" textLength="31.4" lengthAdjust="spacingAndGlyphs">transverse</text>
<text transform="translate(11.80,458.60) rotate(-90)" x="-32.7" y="0" font-size="7.2" fill="#686868" textLength="65.4" lengthAdjust="spacingAndGlyphs">correlation coefficient</text>
<text x="187.50" y="378.10" font-size="7.8" textLength="51.40" lengthAdjust="spacingAndGlyphs">ankle joint angle</text>
<line x1="262.10" y1="375.60" x2="271.40" y2="375.60" stroke="#0000ff" stroke-width="1.4" stroke-opacity="0.75"/>
<text x="272.30" y="378.50" font-size="7.4" textLength="14.30" lengthAdjust="spacingAndGlyphs">PTS</text>
<line x1="289.60" y1="375.60" x2="298.60" y2="375.60" stroke="#000000" stroke-width="1.4" stroke-opacity="0.75"/>
<text x="299.60" y="378.50" font-size="7.4" textLength="9.30" lengthAdjust="spacingAndGlyphs">PT</text>
<line x1="316.30" y1="375.60" x2="325.70" y2="375.60" stroke="#ff0000" stroke-width="1.4" stroke-opacity="0.75"/>
<text x="326.70" y="378.50" font-size="7.4" textLength="8.40" lengthAdjust="spacingAndGlyphs">PS</text>
<line x1="343.50" y1="375.60" x2="352.90" y2="375.60" stroke="#ffa500" stroke-width="1.4" stroke-opacity="0.75"/>
<text x="353.90" y="378.50" font-size="7.4" textLength="4.20" lengthAdjust="spacingAndGlyphs">P</text>
<line x1="364.80" y1="375.60" x2="373.80" y2="375.60" stroke="#1fae1f" stroke-width="1.4" stroke-opacity="0.75"/>
<text x="374.40" y="378.50" font-size="7.4" textLength="14.70" lengthAdjust="spacingAndGlyphs">PCA</text>
</svg>
</body></html>
